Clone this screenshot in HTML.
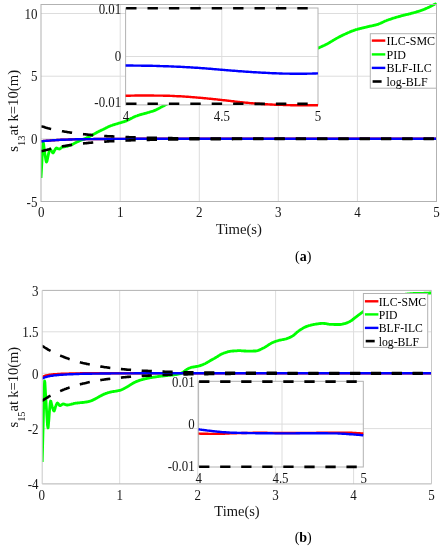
<!DOCTYPE html>
<html><head><meta charset="utf-8"><title>Figure</title>
<style>
html,body{margin:0;padding:0;background:#fff;}
body{width:445px;height:550px;overflow:hidden;}
svg{display:block;font-family:'Liberation Serif', 'Times New Roman', serif;}
</style></head>
<body>
<svg width="445" height="550" viewBox="0 0 445 550">
<defs>
<clipPath id="clipA"><rect x="41.0" y="2.5" width="396.5" height="199.0"/></clipPath>
<clipPath id="clipB"><rect x="42.2" y="288.4" width="390.3" height="195.5"/></clipPath>
</defs>
<rect width="445" height="550" fill="#fff"/>
<rect x="41.0" y="4.5" width="395.5" height="197.0" fill="#fff" stroke="none"/>
<line x1="120.2" y1="4.5" x2="120.2" y2="201.5" stroke="#dddddd" stroke-width="1"/>
<line x1="199.3" y1="4.5" x2="199.3" y2="201.5" stroke="#dddddd" stroke-width="1"/>
<line x1="278.3" y1="4.5" x2="278.3" y2="201.5" stroke="#dddddd" stroke-width="1"/>
<line x1="357.4" y1="4.5" x2="357.4" y2="201.5" stroke="#dddddd" stroke-width="1"/>
<line x1="41.0" y1="13.5" x2="436.5" y2="13.5" stroke="#dddddd" stroke-width="1"/>
<line x1="41.0" y1="76.2" x2="436.5" y2="76.2" stroke="#dddddd" stroke-width="1"/>
<line x1="41.0" y1="138.8" x2="436.5" y2="138.8" stroke="#dddddd" stroke-width="1"/>
<g clip-path="url(#clipA)" fill="none" stroke-linejoin="round">
<path d="M41.2,141.3 L42.5,141.2 L43.8,141.0 L45.2,140.9 L46.5,140.8 L47.8,140.7 L49.1,140.6 L50.5,140.5 L51.8,140.4 L53.1,140.3 L54.4,140.2 L55.7,140.1 L57.1,140.0 L58.4,140.0 L59.7,139.9 L61.0,139.8 L62.3,139.8 L63.7,139.7 L65.0,139.7 L66.3,139.6 L67.6,139.6 L69.0,139.5 L70.3,139.5 L71.6,139.5 L72.9,139.4 L74.2,139.4 L75.6,139.3 L76.9,139.3 L78.2,139.3 L79.5,139.3 L80.9,139.2 L82.2,139.2 L83.5,139.2 L84.8,139.2 L86.1,139.1 L87.5,139.1 L88.8,139.1 L90.1,139.1 L91.4,139.1 L92.7,139.1 L94.1,139.0 L95.4,139.0 L96.7,139.0 L98.0,139.0 L99.4,139.0 L100.7,139.0 L102.0,139.0 L103.3,139.0 L104.6,139.0 L106.0,138.9 L107.3,138.9 L108.6,138.9 L109.9,138.9 L111.3,138.9 L112.6,138.9 L113.9,138.9 L115.2,138.9 L116.5,138.9 L117.9,138.9 L119.2,138.9 L120.5,138.9 L121.8,138.9 L123.1,138.9 L124.5,138.9 L125.8,138.9 L127.1,138.9 L128.4,138.9 L129.8,138.8 L131.1,138.8 L132.4,138.8 L133.7,138.8 L135.0,138.8 L136.4,138.8 L137.7,138.8 L139.0,138.8 L140.3,138.8 L141.7,138.8 L143.0,138.8 L144.3,138.8 L145.6,138.8 L146.9,138.8 L148.3,138.8 L149.6,138.8 L150.9,138.8 L152.2,138.8 L153.5,138.8 L154.9,138.8 L156.2,138.8 L157.5,138.8 L158.8,138.8 L160.2,138.8 L161.5,138.8 L162.8,138.8 L164.1,138.8 L165.4,138.8 L166.8,138.8 L168.1,138.8 L169.4,138.8 L170.7,138.8 L172.1,138.8 L173.4,138.8 L174.7,138.8 L176.0,138.8 L177.3,138.8 L178.7,138.8 L180.0,138.8 L181.3,138.8 L182.6,138.8 L183.9,138.8 L185.3,138.8 L186.6,138.8 L187.9,138.8 L189.2,138.8 L190.6,138.8 L191.9,138.8 L193.2,138.8 L194.5,138.8 L195.8,138.8 L197.2,138.8 L198.5,138.8 L199.8,138.8 L201.1,138.8 L202.5,138.8 L203.8,138.8 L205.1,138.8 L206.4,138.8 L207.7,138.8 L209.1,138.8 L210.4,138.8 L211.7,138.8 L213.0,138.8 L214.3,138.8 L215.7,138.8 L217.0,138.8 L218.3,138.8 L219.6,138.8 L221.0,138.8 L222.3,138.8 L223.6,138.8 L224.9,138.8 L226.2,138.8 L227.6,138.8 L228.9,138.8 L230.2,138.8 L231.5,138.8 L232.9,138.8 L234.2,138.8 L235.5,138.8 L236.8,138.8 L238.1,138.8 L239.5,138.8 L240.8,138.8 L242.1,138.8 L243.4,138.8 L244.7,138.8 L246.1,138.8 L247.4,138.8 L248.7,138.8 L250.0,138.8 L251.4,138.8 L252.7,138.8 L254.0,138.8 L255.3,138.8 L256.6,138.8 L258.0,138.8 L259.3,138.8 L260.6,138.8 L261.9,138.8 L263.3,138.8 L264.6,138.8 L265.9,138.8 L267.2,138.8 L268.5,138.8 L269.9,138.8 L271.2,138.8 L272.5,138.8 L273.8,138.8 L275.1,138.8 L276.5,138.8 L277.8,138.8 L279.1,138.8 L280.4,138.8 L281.8,138.8 L283.1,138.8 L284.4,138.8 L285.7,138.8 L287.0,138.8 L288.4,138.8 L289.7,138.8 L291.0,138.8 L292.3,138.8 L293.7,138.8 L295.0,138.8 L296.3,138.8 L297.6,138.8 L298.9,138.8 L300.3,138.8 L301.6,138.8 L302.9,138.8 L304.2,138.8 L305.5,138.8 L306.9,138.8 L308.2,138.8 L309.5,138.8 L310.8,138.8 L312.2,138.8 L313.5,138.8 L314.8,138.8 L316.1,138.8 L317.4,138.8 L318.8,138.8 L320.1,138.8 L321.4,138.8 L322.7,138.8 L324.1,138.8 L325.4,138.8 L326.7,138.8 L328.0,138.8 L329.3,138.8 L330.7,138.8 L332.0,138.8 L333.3,138.8 L334.6,138.8 L335.9,138.8 L337.3,138.8 L338.6,138.8 L339.9,138.8 L341.2,138.8 L342.6,138.8 L343.9,138.8 L345.2,138.8 L346.5,138.8 L347.8,138.8 L349.2,138.8 L350.5,138.8 L351.8,138.8 L353.1,138.8 L354.5,138.8 L355.8,138.8 L357.1,138.8 L358.4,138.8 L359.7,138.8 L361.1,138.8 L362.4,138.8 L363.7,138.8 L365.0,138.8 L366.3,138.8 L367.7,138.8 L369.0,138.8 L370.3,138.8 L371.6,138.8 L373.0,138.8 L374.3,138.8 L375.6,138.8 L376.9,138.8 L378.2,138.8 L379.6,138.8 L380.9,138.8 L382.2,138.8 L383.5,138.8 L384.9,138.8 L386.2,138.8 L387.5,138.8 L388.8,138.8 L390.1,138.8 L391.5,138.8 L392.8,138.8 L394.1,138.8 L395.4,138.8 L396.7,138.8 L398.1,138.8 L399.4,138.8 L400.7,138.8 L402.0,138.8 L403.4,138.8 L404.7,138.8 L406.0,138.8 L407.3,138.8 L408.6,138.8 L410.0,138.8 L411.3,138.8 L412.6,138.8 L413.9,138.8 L415.3,138.8 L416.6,138.8 L417.9,138.8 L419.2,138.8 L420.5,138.8 L421.9,138.8 L423.2,138.8 L424.5,138.8 L425.8,138.8 L427.1,138.8 L428.5,138.8 L429.8,138.8 L431.1,138.8 L432.4,138.8 L433.8,138.8 L435.1,138.8 L436.4,138.8" stroke="#ff0000" stroke-width="2.4"/>
<path d="M41.0,178.0 L41.7,165.6 L42.0,160.0 L42.3,153.9 L43.0,143.4 L43.2,142.5 L43.7,144.3 L44.3,150.0 L44.6,152.0 L45.0,154.6 L45.7,159.1 L46.3,161.9 L46.5,162.0 L47.0,161.1 L47.7,158.0 L48.3,155.0 L48.3,154.9 L49.0,151.9 L49.7,149.4 L50.0,149.0 L50.3,149.2 L51.0,150.2 L51.5,151.0 L51.7,151.2 L52.3,152.4 L53.0,153.0 L53.0,153.0 L53.7,152.3 L54.3,150.9 L54.8,150.0 L55.0,149.7 L55.6,148.7 L56.3,148.0 L56.5,148.0 L57.0,148.1 L57.6,148.5 L58.0,148.7 L58.3,148.8 L59.0,148.9 L59.5,149.0 L59.6,149.0 L60.3,148.6 L61.0,148.0 L61.6,147.4 L62.0,147.2 L62.3,147.1 L63.0,147.0 L63.6,146.9 L64.3,146.8 L65.0,146.7 L65.6,146.6 L66.0,146.5 L66.3,146.4 L67.0,146.3 L67.6,146.1 L68.3,145.9 L69.0,145.7 L69.6,145.5 L70.3,145.3 L71.0,145.0 L71.0,145.0 L71.6,144.7 L72.3,144.4 L73.0,144.1 L73.6,143.8 L74.3,143.4 L75.0,143.0 L75.6,142.7 L76.0,142.5 L76.3,142.4 L77.0,142.0 L77.6,141.7 L78.3,141.4 L79.0,141.1 L79.6,140.8 L80.0,140.6 L80.3,140.5 L80.9,140.2 L81.6,139.9 L82.3,139.6 L82.9,139.4 L83.6,139.1 L84.3,138.8 L84.9,138.6 L85.6,138.3 L86.3,138.0 L86.9,137.7 L87.6,137.5 L88.3,137.2 L88.6,137.0 L88.9,136.8 L89.6,136.5 L90.3,136.2 L90.9,135.8 L91.6,135.4 L92.3,135.1 L92.9,134.7 L93.6,134.3 L94.3,133.9 L94.9,133.6 L95.6,133.2 L96.3,132.8 L96.9,132.4 L97.6,132.1 L98.3,131.7 L98.7,131.5 L98.9,131.4 L99.6,131.1 L100.3,130.7 L100.9,130.4 L101.6,130.1 L102.3,129.8 L102.9,129.5 L103.6,129.2 L104.0,129.0 L104.3,128.9 L104.9,128.5 L105.6,128.2 L106.3,127.8 L106.9,127.5 L107.6,127.2 L108.2,126.8 L108.9,126.5 L109.0,126.5 L109.6,126.3 L110.2,126.0 L110.9,125.7 L111.6,125.5 L112.2,125.3 L112.9,125.0 L113.0,125.0 L113.6,124.8 L114.2,124.6 L114.9,124.4 L115.6,124.2 L116.2,124.0 L116.9,123.8 L117.6,123.6 L118.0,123.5 L118.2,123.4 L118.9,123.2 L119.6,123.0 L120.2,122.8 L120.9,122.6 L121.6,122.4 L122.2,122.2 L122.9,122.0 L123.0,122.0 L123.6,121.8 L124.2,121.6 L124.9,121.4 L125.6,121.2 L126.2,120.9 L126.9,120.6 L127.0,120.6 L127.6,120.3 L128.2,120.0 L128.9,119.7 L129.6,119.3 L130.2,118.9 L130.9,118.6 L131.0,118.5 L131.6,118.2 L132.2,117.9 L132.9,117.5 L133.5,117.2 L134.2,116.9 L134.9,116.6 L135.5,116.3 L136.0,116.1 L136.2,116.0 L136.9,115.8 L137.5,115.6 L138.2,115.3 L138.9,115.1 L139.5,114.9 L140.0,114.8 L140.2,114.7 L140.9,114.5 L141.5,114.4 L142.2,114.2 L142.9,114.0 L143.5,113.8 L144.2,113.6 L144.9,113.4 L145.0,113.4 L145.5,113.3 L146.2,113.1 L146.9,112.9 L147.5,112.7 L148.2,112.5 L148.9,112.3 L149.5,112.1 L150.0,112.0 L150.2,111.9 L150.9,111.7 L151.5,111.5 L152.2,111.3 L152.9,111.1 L153.5,110.9 L154.0,110.7 L154.2,110.6 L154.9,110.4 L155.5,110.1 L156.2,109.8 L156.9,109.4 L157.5,109.1 L158.2,108.8 L158.9,108.4 L159.5,108.1 L160.2,107.7 L160.8,107.3 L161.5,107.0 L162.2,106.6 L162.8,106.3 L163.0,106.2 L163.5,105.9 L164.2,105.6 L164.8,105.2 L165.5,104.9 L166.2,104.5 L166.8,104.1 L167.5,103.8 L168.2,103.4 L168.8,103.1 L169.5,102.7 L170.0,102.5 L170.2,102.4 L170.8,102.1 L171.5,101.8 L172.2,101.5 L172.8,101.2 L173.5,100.8 L174.2,100.5 L174.8,100.2 L175.5,100.0 L176.2,99.7 L176.8,99.4 L177.5,99.1 L178.2,98.8 L178.8,98.5 L179.5,98.2 L180.0,98.0 L180.2,97.9 L180.8,97.6 L181.5,97.4 L182.2,97.1 L182.8,96.8 L183.5,96.5 L184.2,96.3 L184.8,96.0 L185.5,95.7 L186.1,95.4 L186.8,95.2 L187.5,94.9 L188.1,94.6 L188.8,94.3 L189.5,94.1 L190.1,93.8 L190.8,93.5 L191.5,93.3 L192.1,93.0 L192.8,92.8 L193.5,92.5 L194.1,92.2 L194.8,92.0 L195.5,91.7 L196.1,91.5 L196.8,91.2 L197.5,91.0 L198.1,90.7 L198.8,90.4 L199.5,90.2 L200.0,90.0 L200.1,90.0 L200.8,89.7 L201.5,89.5 L202.1,89.2 L202.8,89.0 L203.5,88.7 L204.1,88.5 L204.8,88.3 L205.5,88.0 L206.1,87.8 L206.8,87.6 L207.5,87.3 L208.1,87.1 L208.8,86.9 L209.5,86.6 L210.1,86.4 L210.8,86.2 L211.5,85.9 L212.1,85.7 L212.8,85.5 L213.4,85.3 L214.1,85.0 L214.8,84.8 L215.4,84.6 L216.1,84.3 L216.8,84.1 L217.4,83.9 L218.1,83.7 L218.8,83.4 L219.4,83.2 L220.0,83.0 L220.1,83.0 L220.8,82.7 L221.4,82.5 L222.1,82.3 L222.8,82.0 L223.4,81.8 L224.1,81.6 L224.8,81.3 L225.4,81.1 L226.1,80.9 L226.8,80.6 L227.4,80.4 L228.1,80.2 L228.8,79.9 L229.4,79.7 L230.1,79.5 L230.8,79.2 L231.4,79.0 L232.1,78.8 L232.8,78.5 L233.4,78.3 L234.1,78.1 L234.8,77.8 L235.4,77.6 L236.1,77.4 L236.8,77.1 L237.4,76.9 L238.1,76.7 L238.8,76.4 L239.4,76.2 L240.0,76.0 L240.1,76.0 L240.7,75.7 L241.4,75.5 L242.1,75.3 L242.7,75.0 L243.4,74.8 L244.1,74.6 L244.7,74.3 L245.4,74.1 L246.1,73.9 L246.7,73.6 L247.4,73.4 L248.1,73.2 L248.7,72.9 L249.4,72.7 L250.1,72.5 L250.7,72.2 L251.4,72.0 L252.1,71.8 L252.7,71.5 L253.4,71.3 L254.1,71.1 L254.7,70.8 L255.4,70.6 L256.1,70.4 L256.7,70.1 L257.4,69.9 L258.1,69.7 L258.7,69.4 L259.4,69.2 L260.0,69.0 L260.1,69.0 L260.7,68.7 L261.4,68.5 L262.1,68.3 L262.7,68.0 L263.4,67.8 L264.1,67.6 L264.7,67.3 L265.4,67.1 L266.0,66.9 L266.7,66.6 L267.4,66.4 L268.0,66.2 L268.7,66.0 L269.4,65.7 L270.0,65.5 L270.7,65.3 L271.4,65.0 L272.0,64.8 L272.7,64.6 L273.4,64.3 L274.0,64.1 L274.7,63.9 L275.4,63.6 L276.0,63.4 L276.7,63.2 L277.4,62.9 L278.0,62.7 L278.7,62.5 L279.4,62.2 L280.0,62.0 L280.0,62.0 L280.7,61.8 L281.4,61.5 L282.0,61.3 L282.7,61.1 L283.4,60.8 L284.0,60.6 L284.7,60.4 L285.4,60.1 L286.0,59.9 L286.7,59.7 L287.4,59.4 L288.0,59.2 L288.7,59.0 L289.4,58.8 L290.0,58.5 L290.7,58.3 L291.4,58.1 L292.0,57.8 L292.7,57.6 L293.3,57.4 L294.0,57.1 L294.7,56.9 L295.3,56.7 L296.0,56.4 L296.7,56.2 L297.3,56.0 L298.0,55.7 L298.7,55.5 L299.3,55.2 L300.0,55.0 L300.0,55.0 L300.7,54.8 L301.3,54.5 L302.0,54.3 L302.7,54.0 L303.3,53.8 L304.0,53.5 L304.7,53.3 L305.3,53.1 L306.0,52.8 L306.7,52.6 L307.3,52.3 L308.0,52.1 L308.7,51.8 L309.3,51.6 L310.0,51.4 L310.7,51.1 L311.3,50.8 L312.0,50.6 L312.7,50.3 L313.3,50.1 L314.0,49.8 L314.7,49.6 L315.3,49.3 L316.0,49.0 L316.7,48.7 L317.3,48.5 L318.0,48.2 L318.2,48.1 L318.6,47.9 L319.3,47.6 L320.0,47.3 L320.6,47.0 L321.3,46.7 L322.0,46.4 L322.6,46.1 L323.3,45.8 L324.0,45.5 L324.6,45.2 L325.3,44.9 L326.0,44.5 L326.6,44.2 L327.0,44.0 L327.3,43.8 L328.0,43.5 L328.6,43.1 L329.3,42.7 L330.0,42.3 L330.6,41.9 L331.3,41.5 L332.0,41.1 L332.6,40.7 L333.3,40.3 L334.0,39.9 L334.6,39.5 L335.3,39.1 L336.0,38.7 L336.5,38.4 L336.6,38.3 L337.3,38.0 L338.0,37.6 L338.6,37.3 L339.3,36.9 L340.0,36.6 L340.6,36.2 L341.3,35.9 L342.0,35.6 L342.6,35.2 L343.3,34.9 L344.0,34.6 L344.6,34.3 L345.3,34.0 L345.9,33.7 L345.9,33.7 L346.6,33.4 L347.3,33.1 L347.9,32.8 L348.6,32.5 L349.3,32.2 L349.9,31.9 L350.6,31.6 L351.3,31.4 L351.9,31.1 L352.6,30.8 L353.3,30.6 L353.9,30.4 L354.6,30.1 L355.3,29.9 L355.3,29.9 L355.9,29.7 L356.6,29.5 L357.3,29.3 L357.9,29.1 L358.6,28.9 L359.3,28.8 L359.9,28.6 L360.6,28.4 L361.3,28.3 L361.9,28.1 L362.6,27.9 L363.3,27.8 L363.9,27.6 L364.6,27.5 L365.3,27.3 L365.9,27.2 L366.6,27.0 L367.3,26.9 L367.9,26.7 L367.9,26.7 L368.6,26.5 L369.3,26.4 L369.9,26.2 L370.6,26.1 L371.2,26.0 L371.9,25.8 L372.6,25.7 L373.2,25.5 L373.9,25.4 L374.6,25.2 L375.2,25.1 L375.9,24.9 L376.6,24.7 L377.2,24.5 L377.3,24.5 L377.9,24.3 L378.6,24.1 L379.2,23.8 L379.9,23.5 L380.6,23.2 L381.2,22.9 L381.9,22.6 L382.6,22.3 L383.2,22.0 L383.9,21.6 L384.6,21.3 L385.2,21.0 L385.9,20.8 L386.6,20.5 L386.8,20.4 L387.2,20.2 L387.9,20.0 L388.6,19.8 L389.2,19.5 L389.9,19.3 L390.6,19.1 L391.2,18.9 L391.9,18.6 L392.6,18.4 L393.2,18.2 L393.9,18.0 L394.6,17.8 L395.2,17.6 L395.9,17.4 L396.6,17.2 L397.2,17.0 L397.9,16.8 L398.5,16.6 L399.2,16.5 L399.4,16.4 L399.9,16.3 L400.5,16.1 L401.2,15.9 L401.9,15.7 L402.5,15.6 L403.2,15.4 L403.9,15.2 L404.5,15.1 L405.2,14.9 L405.9,14.7 L406.5,14.6 L407.2,14.4 L407.9,14.3 L408.5,14.1 L409.2,13.9 L409.9,13.8 L410.5,13.6 L411.2,13.4 L411.9,13.2 L412.0,13.2 L412.5,13.1 L413.2,12.9 L413.9,12.7 L414.5,12.5 L415.2,12.3 L415.9,12.1 L416.5,11.9 L417.2,11.7 L417.9,11.6 L418.5,11.3 L419.2,11.1 L419.9,10.9 L420.5,10.7 L421.2,10.5 L421.4,10.4 L421.9,10.2 L422.5,10.0 L423.2,9.7 L423.8,9.5 L424.5,9.2 L425.2,8.9 L425.8,8.6 L426.5,8.3 L427.2,8.0 L427.8,7.7 L428.5,7.4 L429.2,7.1 L429.8,6.8 L430.5,6.4 L430.8,6.3 L431.2,6.1 L431.8,5.8 L432.5,5.4 L433.2,5.0 L433.8,4.7 L434.5,4.3 L435.2,3.9 L435.8,3.5 L436.5,3.1" stroke="#00ff00" stroke-width="2.8"/>
<path d="M41.2,141.3 L42.5,141.2 L43.8,141.0 L45.2,140.9 L46.5,140.8 L47.8,140.7 L49.1,140.6 L50.5,140.5 L51.8,140.4 L53.1,140.3 L54.4,140.2 L55.7,140.1 L57.1,140.0 L58.4,140.0 L59.7,139.9 L61.0,139.8 L62.3,139.8 L63.7,139.7 L65.0,139.7 L66.3,139.6 L67.6,139.6 L69.0,139.5 L70.3,139.5 L71.6,139.5 L72.9,139.4 L74.2,139.4 L75.6,139.3 L76.9,139.3 L78.2,139.3 L79.5,139.3 L80.9,139.2 L82.2,139.2 L83.5,139.2 L84.8,139.2 L86.1,139.1 L87.5,139.1 L88.8,139.1 L90.1,139.1 L91.4,139.1 L92.7,139.1 L94.1,139.0 L95.4,139.0 L96.7,139.0 L98.0,139.0 L99.4,139.0 L100.7,139.0 L102.0,139.0 L103.3,139.0 L104.6,139.0 L106.0,138.9 L107.3,138.9 L108.6,138.9 L109.9,138.9 L111.3,138.9 L112.6,138.9 L113.9,138.9 L115.2,138.9 L116.5,138.9 L117.9,138.9 L119.2,138.9 L120.5,138.9 L121.8,138.9 L123.1,138.9 L124.5,138.9 L125.8,138.9 L127.1,138.9 L128.4,138.9 L129.8,138.8 L131.1,138.8 L132.4,138.8 L133.7,138.8 L135.0,138.8 L136.4,138.8 L137.7,138.8 L139.0,138.8 L140.3,138.8 L141.7,138.8 L143.0,138.8 L144.3,138.8 L145.6,138.8 L146.9,138.8 L148.3,138.8 L149.6,138.8 L150.9,138.8 L152.2,138.8 L153.5,138.8 L154.9,138.8 L156.2,138.8 L157.5,138.8 L158.8,138.8 L160.2,138.8 L161.5,138.8 L162.8,138.8 L164.1,138.8 L165.4,138.8 L166.8,138.8 L168.1,138.8 L169.4,138.8 L170.7,138.8 L172.1,138.8 L173.4,138.8 L174.7,138.8 L176.0,138.8 L177.3,138.8 L178.7,138.8 L180.0,138.8 L181.3,138.8 L182.6,138.8 L183.9,138.8 L185.3,138.8 L186.6,138.8 L187.9,138.8 L189.2,138.8 L190.6,138.8 L191.9,138.8 L193.2,138.8 L194.5,138.8 L195.8,138.8 L197.2,138.8 L198.5,138.8 L199.8,138.8 L201.1,138.8 L202.5,138.8 L203.8,138.8 L205.1,138.8 L206.4,138.8 L207.7,138.8 L209.1,138.8 L210.4,138.8 L211.7,138.8 L213.0,138.8 L214.3,138.8 L215.7,138.8 L217.0,138.8 L218.3,138.8 L219.6,138.8 L221.0,138.8 L222.3,138.8 L223.6,138.8 L224.9,138.8 L226.2,138.8 L227.6,138.8 L228.9,138.8 L230.2,138.8 L231.5,138.8 L232.9,138.8 L234.2,138.8 L235.5,138.8 L236.8,138.8 L238.1,138.8 L239.5,138.8 L240.8,138.8 L242.1,138.8 L243.4,138.8 L244.7,138.8 L246.1,138.8 L247.4,138.8 L248.7,138.8 L250.0,138.8 L251.4,138.8 L252.7,138.8 L254.0,138.8 L255.3,138.8 L256.6,138.8 L258.0,138.8 L259.3,138.8 L260.6,138.8 L261.9,138.8 L263.3,138.8 L264.6,138.8 L265.9,138.8 L267.2,138.8 L268.5,138.8 L269.9,138.8 L271.2,138.8 L272.5,138.8 L273.8,138.8 L275.1,138.8 L276.5,138.8 L277.8,138.8 L279.1,138.8 L280.4,138.8 L281.8,138.8 L283.1,138.8 L284.4,138.8 L285.7,138.8 L287.0,138.8 L288.4,138.8 L289.7,138.8 L291.0,138.8 L292.3,138.8 L293.7,138.8 L295.0,138.8 L296.3,138.8 L297.6,138.8 L298.9,138.8 L300.3,138.8 L301.6,138.8 L302.9,138.8 L304.2,138.8 L305.5,138.8 L306.9,138.8 L308.2,138.8 L309.5,138.8 L310.8,138.8 L312.2,138.8 L313.5,138.8 L314.8,138.8 L316.1,138.8 L317.4,138.8 L318.8,138.8 L320.1,138.8 L321.4,138.8 L322.7,138.8 L324.1,138.8 L325.4,138.8 L326.7,138.8 L328.0,138.8 L329.3,138.8 L330.7,138.8 L332.0,138.8 L333.3,138.8 L334.6,138.8 L335.9,138.8 L337.3,138.8 L338.6,138.8 L339.9,138.8 L341.2,138.8 L342.6,138.8 L343.9,138.8 L345.2,138.8 L346.5,138.8 L347.8,138.8 L349.2,138.8 L350.5,138.8 L351.8,138.8 L353.1,138.8 L354.5,138.8 L355.8,138.8 L357.1,138.8 L358.4,138.8 L359.7,138.8 L361.1,138.8 L362.4,138.8 L363.7,138.8 L365.0,138.8 L366.3,138.8 L367.7,138.8 L369.0,138.8 L370.3,138.8 L371.6,138.8 L373.0,138.8 L374.3,138.8 L375.6,138.8 L376.9,138.8 L378.2,138.8 L379.6,138.8 L380.9,138.8 L382.2,138.8 L383.5,138.8 L384.9,138.8 L386.2,138.8 L387.5,138.8 L388.8,138.8 L390.1,138.8 L391.5,138.8 L392.8,138.8 L394.1,138.8 L395.4,138.8 L396.7,138.8 L398.1,138.8 L399.4,138.8 L400.7,138.8 L402.0,138.8 L403.4,138.8 L404.7,138.8 L406.0,138.8 L407.3,138.8 L408.6,138.8 L410.0,138.8 L411.3,138.8 L412.6,138.8 L413.9,138.8 L415.3,138.8 L416.6,138.8 L417.9,138.8 L419.2,138.8 L420.5,138.8 L421.9,138.8 L423.2,138.8 L424.5,138.8 L425.8,138.8 L427.1,138.8 L428.5,138.8 L429.8,138.8 L431.1,138.8 L432.4,138.8 L433.8,138.8 L435.1,138.8 L436.4,138.8" stroke="#0000ff" stroke-width="2.4"/>
<path d="M41.2,126.3 L42.2,126.6 L43.2,126.8 L44.2,127.1 L45.2,127.4 L46.2,127.7 L47.1,127.9 L48.1,128.2 L49.1,128.4 L50.1,128.7 L51.1,128.9 L52.1,129.1 L53.1,129.4 L54.1,129.6 L55.1,129.8 L56.1,130.0 L57.0,130.2 L58.0,130.4 L59.0,130.6 L60.0,130.8 L61.0,131.0 L62.0,131.2 L63.0,131.3 L64.0,131.5 L65.0,131.7 L66.0,131.8 L67.0,132.0 L67.9,132.2 L68.9,132.3 L69.9,132.5 L70.9,132.6 L71.9,132.7 L72.9,132.9 L73.9,133.0 L74.9,133.2 L75.9,133.3 L76.9,133.4 L77.8,133.5 L78.8,133.7 L79.8,133.8 L80.8,133.9 L81.8,134.0 L82.8,134.1 L83.8,134.2 L84.8,134.3 L85.8,134.4 L86.8,134.5 L87.8,134.6 L88.7,134.7 L89.7,134.8 L90.7,134.9 L91.7,135.0 L92.7,135.1 L93.7,135.2 L94.7,135.2 L95.7,135.3 L96.7,135.4 L97.7,135.5 L98.6,135.6 L99.6,135.6 L100.6,135.7 L101.6,135.8 L102.6,135.8 L103.6,135.9 L104.6,136.0 L105.6,136.0 L106.6,136.1 L107.6,136.2 L108.6,136.2 L109.5,136.3 L110.5,136.3 L111.5,136.4 L112.5,136.4 L113.5,136.5 L114.5,136.5 L115.5,136.6 L116.5,136.6 L117.5,136.7 L118.5,136.7 L119.4,136.8 L120.4,136.8 L121.4,136.9 L122.4,136.9 L123.4,137.0 L124.4,137.0 L125.4,137.0 L126.4,137.1 L127.4,137.1 L128.4,137.1 L129.4,137.2 L130.3,137.2 L131.3,137.3 L132.3,137.3 L133.3,137.3 L134.3,137.4 L135.3,137.4 L136.3,137.4 L137.3,137.4 L138.3,137.5 L139.3,137.5 L140.2,137.5 L141.2,137.6 L142.2,137.6 L143.2,137.6 L144.2,137.6 L145.2,137.7 L146.2,137.7 L147.2,137.7 L148.2,137.7 L149.2,137.7 L150.2,137.8 L151.1,137.8 L152.1,137.8 L153.1,137.8 L154.1,137.9 L155.1,137.9 L156.1,137.9 L157.1,137.9 L158.1,137.9 L159.1,137.9 L160.1,138.0 L161.0,138.0 L162.0,138.0 L163.0,138.0 L164.0,138.0 L165.0,138.0 L166.0,138.1 L167.0,138.1 L168.0,138.1 L169.0,138.1 L170.0,138.1 L171.0,138.1 L171.9,138.1 L172.9,138.2 L173.9,138.2 L174.9,138.2 L175.9,138.2 L176.9,138.2 L177.9,138.2 L178.9,138.2 L179.9,138.2 L180.9,138.2 L181.8,138.3 L182.8,138.3 L183.8,138.3 L184.8,138.3 L185.8,138.3 L186.8,138.3 L187.8,138.3 L188.8,138.3 L189.8,138.3 L190.8,138.3 L191.8,138.3 L192.7,138.3 L193.7,138.4 L194.7,138.4 L195.7,138.4 L196.7,138.4 L197.7,138.4 L198.7,138.4 L199.7,138.4 L200.7,138.4 L201.7,138.4 L202.6,138.4 L203.6,138.4 L204.6,138.4 L205.6,138.4 L206.6,138.4 L207.6,138.4 L208.6,138.5 L209.6,138.5 L210.6,138.5 L211.6,138.5 L212.6,138.5 L213.5,138.5 L214.5,138.5 L215.5,138.5 L216.5,138.5 L217.5,138.5 L218.5,138.5 L219.5,138.5 L220.5,138.5 L221.5,138.5 L222.5,138.5 L223.4,138.5 L224.4,138.5 L225.4,138.5 L226.4,138.5 L227.4,138.5 L228.4,138.5 L229.4,138.5 L230.4,138.5 L231.4,138.5 L232.4,138.5 L233.4,138.6 L234.3,138.6 L235.3,138.6 L236.3,138.6 L237.3,138.6 L238.3,138.6 L239.3,138.6 L240.3,138.6 L241.3,138.6 L242.3,138.6 L243.3,138.6 L244.2,138.6 L245.2,138.6 L246.2,138.6 L247.2,138.6 L248.2,138.6 L249.2,138.6 L250.2,138.6 L251.2,138.6 L252.2,138.6 L253.2,138.6 L254.2,138.6 L255.1,138.6 L256.1,138.6 L257.1,138.6 L258.1,138.6 L259.1,138.6 L260.1,138.6 L261.1,138.6 L262.1,138.6 L263.1,138.6 L264.1,138.6 L265.0,138.6 L266.0,138.6 L267.0,138.6 L268.0,138.6 L269.0,138.6 L270.0,138.6 L271.0,138.6 L272.0,138.6 L273.0,138.6 L274.0,138.6 L275.0,138.6 L275.9,138.6 L276.9,138.6 L277.9,138.6 L278.9,138.6 L279.9,138.6 L280.9,138.6 L281.9,138.6 L282.9,138.6 L283.9,138.6 L284.9,138.6 L285.8,138.6 L286.8,138.6 L287.8,138.6 L288.8,138.6 L289.8,138.6 L290.8,138.6 L291.8,138.6 L292.8,138.6 L293.8,138.6 L294.8,138.6 L295.8,138.6 L296.7,138.6 L297.7,138.6 L298.7,138.6 L299.7,138.6 L300.7,138.7 L301.7,138.7 L302.7,138.7 L303.7,138.7 L304.7,138.7 L305.7,138.7 L306.6,138.7 L307.6,138.7 L308.6,138.7 L309.6,138.7 L310.6,138.7 L311.6,138.7 L312.6,138.7 L313.6,138.7 L314.6,138.7 L315.6,138.7 L316.6,138.7 L317.5,138.7 L318.5,138.7 L319.5,138.7 L320.5,138.7 L321.5,138.7 L322.5,138.7 L323.5,138.7 L324.5,138.7 L325.5,138.7 L326.5,138.7 L327.4,138.7 L328.4,138.7 L329.4,138.7 L330.4,138.7 L331.4,138.7 L332.4,138.7 L333.4,138.7 L334.4,138.7 L335.4,138.7 L336.4,138.7 L337.4,138.7 L338.3,138.7 L339.3,138.7 L340.3,138.7 L341.3,138.7 L342.3,138.7 L343.3,138.7 L344.3,138.7 L345.3,138.7 L346.3,138.7 L347.3,138.7 L348.2,138.7 L349.2,138.7 L350.2,138.7 L351.2,138.7 L352.2,138.7 L353.2,138.7 L354.2,138.7 L355.2,138.7 L356.2,138.7 L357.2,138.7 L358.2,138.7 L359.1,138.7 L360.1,138.7 L361.1,138.7 L362.1,138.7 L363.1,138.7 L364.1,138.7 L365.1,138.7 L366.1,138.7 L367.1,138.7 L368.1,138.7 L369.0,138.7 L370.0,138.7 L371.0,138.7 L372.0,138.7 L373.0,138.7 L374.0,138.7 L375.0,138.7 L376.0,138.7 L377.0,138.7 L378.0,138.7 L379.0,138.7 L379.9,138.7 L380.9,138.7 L381.9,138.7 L382.9,138.7 L383.9,138.7 L384.9,138.7 L385.9,138.7 L386.9,138.7 L387.9,138.7 L388.9,138.7 L389.8,138.7 L390.8,138.7 L391.8,138.7 L392.8,138.7 L393.8,138.7 L394.8,138.7 L395.8,138.7 L396.8,138.7 L397.8,138.7 L398.8,138.7 L399.8,138.7 L400.7,138.7 L401.7,138.7 L402.7,138.7 L403.7,138.7 L404.7,138.7 L405.7,138.7 L406.7,138.7 L407.7,138.7 L408.7,138.7 L409.7,138.7 L410.6,138.7 L411.6,138.7 L412.6,138.7 L413.6,138.7 L414.6,138.7 L415.6,138.7 L416.6,138.7 L417.6,138.7 L418.6,138.7 L419.6,138.7 L420.6,138.7 L421.5,138.7 L422.5,138.7 L423.5,138.7 L424.5,138.7 L425.5,138.7 L426.5,138.7 L427.5,138.7 L428.5,138.7 L429.5,138.7 L430.5,138.7 L431.4,138.7 L432.4,138.7 L433.4,138.7 L434.4,138.7 L435.4,138.7 L436.4,138.7" stroke="#000" stroke-width="2.6" stroke-dasharray="10.3 11"/>
<path d="M41.2,151.3 L42.2,151.0 L43.2,150.8 L44.2,150.5 L45.2,150.2 L46.2,149.9 L47.1,149.7 L48.1,149.4 L49.1,149.2 L50.1,148.9 L51.1,148.7 L52.1,148.5 L53.1,148.2 L54.1,148.0 L55.1,147.8 L56.1,147.6 L57.0,147.4 L58.0,147.2 L59.0,147.0 L60.0,146.8 L61.0,146.6 L62.0,146.4 L63.0,146.3 L64.0,146.1 L65.0,145.9 L66.0,145.8 L67.0,145.6 L67.9,145.4 L68.9,145.3 L69.9,145.1 L70.9,145.0 L71.9,144.9 L72.9,144.7 L73.9,144.6 L74.9,144.4 L75.9,144.3 L76.9,144.2 L77.8,144.1 L78.8,143.9 L79.8,143.8 L80.8,143.7 L81.8,143.6 L82.8,143.5 L83.8,143.4 L84.8,143.3 L85.8,143.2 L86.8,143.1 L87.8,143.0 L88.7,142.9 L89.7,142.8 L90.7,142.7 L91.7,142.6 L92.7,142.5 L93.7,142.4 L94.7,142.4 L95.7,142.3 L96.7,142.2 L97.7,142.1 L98.6,142.0 L99.6,142.0 L100.6,141.9 L101.6,141.8 L102.6,141.8 L103.6,141.7 L104.6,141.6 L105.6,141.6 L106.6,141.5 L107.6,141.4 L108.6,141.4 L109.5,141.3 L110.5,141.3 L111.5,141.2 L112.5,141.2 L113.5,141.1 L114.5,141.1 L115.5,141.0 L116.5,141.0 L117.5,140.9 L118.5,140.9 L119.4,140.8 L120.4,140.8 L121.4,140.7 L122.4,140.7 L123.4,140.6 L124.4,140.6 L125.4,140.6 L126.4,140.5 L127.4,140.5 L128.4,140.5 L129.4,140.4 L130.3,140.4 L131.3,140.3 L132.3,140.3 L133.3,140.3 L134.3,140.2 L135.3,140.2 L136.3,140.2 L137.3,140.2 L138.3,140.1 L139.3,140.1 L140.2,140.1 L141.2,140.0 L142.2,140.0 L143.2,140.0 L144.2,140.0 L145.2,139.9 L146.2,139.9 L147.2,139.9 L148.2,139.9 L149.2,139.9 L150.2,139.8 L151.1,139.8 L152.1,139.8 L153.1,139.8 L154.1,139.7 L155.1,139.7 L156.1,139.7 L157.1,139.7 L158.1,139.7 L159.1,139.7 L160.1,139.6 L161.0,139.6 L162.0,139.6 L163.0,139.6 L164.0,139.6 L165.0,139.6 L166.0,139.5 L167.0,139.5 L168.0,139.5 L169.0,139.5 L170.0,139.5 L171.0,139.5 L171.9,139.5 L172.9,139.4 L173.9,139.4 L174.9,139.4 L175.9,139.4 L176.9,139.4 L177.9,139.4 L178.9,139.4 L179.9,139.4 L180.9,139.4 L181.8,139.3 L182.8,139.3 L183.8,139.3 L184.8,139.3 L185.8,139.3 L186.8,139.3 L187.8,139.3 L188.8,139.3 L189.8,139.3 L190.8,139.3 L191.8,139.3 L192.7,139.3 L193.7,139.2 L194.7,139.2 L195.7,139.2 L196.7,139.2 L197.7,139.2 L198.7,139.2 L199.7,139.2 L200.7,139.2 L201.7,139.2 L202.6,139.2 L203.6,139.2 L204.6,139.2 L205.6,139.2 L206.6,139.2 L207.6,139.2 L208.6,139.1 L209.6,139.1 L210.6,139.1 L211.6,139.1 L212.6,139.1 L213.5,139.1 L214.5,139.1 L215.5,139.1 L216.5,139.1 L217.5,139.1 L218.5,139.1 L219.5,139.1 L220.5,139.1 L221.5,139.1 L222.5,139.1 L223.4,139.1 L224.4,139.1 L225.4,139.1 L226.4,139.1 L227.4,139.1 L228.4,139.1 L229.4,139.1 L230.4,139.1 L231.4,139.1 L232.4,139.1 L233.4,139.0 L234.3,139.0 L235.3,139.0 L236.3,139.0 L237.3,139.0 L238.3,139.0 L239.3,139.0 L240.3,139.0 L241.3,139.0 L242.3,139.0 L243.3,139.0 L244.2,139.0 L245.2,139.0 L246.2,139.0 L247.2,139.0 L248.2,139.0 L249.2,139.0 L250.2,139.0 L251.2,139.0 L252.2,139.0 L253.2,139.0 L254.2,139.0 L255.1,139.0 L256.1,139.0 L257.1,139.0 L258.1,139.0 L259.1,139.0 L260.1,139.0 L261.1,139.0 L262.1,139.0 L263.1,139.0 L264.1,139.0 L265.0,139.0 L266.0,139.0 L267.0,139.0 L268.0,139.0 L269.0,139.0 L270.0,139.0 L271.0,139.0 L272.0,139.0 L273.0,139.0 L274.0,139.0 L275.0,139.0 L275.9,139.0 L276.9,139.0 L277.9,139.0 L278.9,139.0 L279.9,139.0 L280.9,139.0 L281.9,139.0 L282.9,139.0 L283.9,139.0 L284.9,139.0 L285.8,139.0 L286.8,139.0 L287.8,139.0 L288.8,139.0 L289.8,139.0 L290.8,139.0 L291.8,139.0 L292.8,139.0 L293.8,139.0 L294.8,139.0 L295.8,139.0 L296.7,139.0 L297.7,139.0 L298.7,139.0 L299.7,139.0 L300.7,138.9 L301.7,138.9 L302.7,138.9 L303.7,138.9 L304.7,138.9 L305.7,138.9 L306.6,138.9 L307.6,138.9 L308.6,138.9 L309.6,138.9 L310.6,138.9 L311.6,138.9 L312.6,138.9 L313.6,138.9 L314.6,138.9 L315.6,138.9 L316.6,138.9 L317.5,138.9 L318.5,138.9 L319.5,138.9 L320.5,138.9 L321.5,138.9 L322.5,138.9 L323.5,138.9 L324.5,138.9 L325.5,138.9 L326.5,138.9 L327.4,138.9 L328.4,138.9 L329.4,138.9 L330.4,138.9 L331.4,138.9 L332.4,138.9 L333.4,138.9 L334.4,138.9 L335.4,138.9 L336.4,138.9 L337.4,138.9 L338.3,138.9 L339.3,138.9 L340.3,138.9 L341.3,138.9 L342.3,138.9 L343.3,138.9 L344.3,138.9 L345.3,138.9 L346.3,138.9 L347.3,138.9 L348.2,138.9 L349.2,138.9 L350.2,138.9 L351.2,138.9 L352.2,138.9 L353.2,138.9 L354.2,138.9 L355.2,138.9 L356.2,138.9 L357.2,138.9 L358.2,138.9 L359.1,138.9 L360.1,138.9 L361.1,138.9 L362.1,138.9 L363.1,138.9 L364.1,138.9 L365.1,138.9 L366.1,138.9 L367.1,138.9 L368.1,138.9 L369.0,138.9 L370.0,138.9 L371.0,138.9 L372.0,138.9 L373.0,138.9 L374.0,138.9 L375.0,138.9 L376.0,138.9 L377.0,138.9 L378.0,138.9 L379.0,138.9 L379.9,138.9 L380.9,138.9 L381.9,138.9 L382.9,138.9 L383.9,138.9 L384.9,138.9 L385.9,138.9 L386.9,138.9 L387.9,138.9 L388.9,138.9 L389.8,138.9 L390.8,138.9 L391.8,138.9 L392.8,138.9 L393.8,138.9 L394.8,138.9 L395.8,138.9 L396.8,138.9 L397.8,138.9 L398.8,138.9 L399.8,138.9 L400.7,138.9 L401.7,138.9 L402.7,138.9 L403.7,138.9 L404.7,138.9 L405.7,138.9 L406.7,138.9 L407.7,138.9 L408.7,138.9 L409.7,138.9 L410.6,138.9 L411.6,138.9 L412.6,138.9 L413.6,138.9 L414.6,138.9 L415.6,138.9 L416.6,138.9 L417.6,138.9 L418.6,138.9 L419.6,138.9 L420.6,138.9 L421.5,138.9 L422.5,138.9 L423.5,138.9 L424.5,138.9 L425.5,138.9 L426.5,138.9 L427.5,138.9 L428.5,138.9 L429.5,138.9 L430.5,138.9 L431.4,138.9 L432.4,138.9 L433.4,138.9 L434.4,138.9 L435.4,138.9 L436.4,138.9" stroke="#000" stroke-width="2.6" stroke-dasharray="10.3 11"/>
</g>
<rect x="41.0" y="4.5" width="395.5" height="197.0" fill="none" stroke="#b2b2b2" stroke-width="1"/>
<text transform="translate(41.2,217.4) scale(1,1.07)" font-size="13" text-anchor="middle" fill="#151515">0</text>
<text transform="translate(120.2,217.4) scale(1,1.07)" font-size="13" text-anchor="middle" fill="#151515">1</text>
<text transform="translate(199.3,217.4) scale(1,1.07)" font-size="13" text-anchor="middle" fill="#151515">2</text>
<text transform="translate(278.3,217.4) scale(1,1.07)" font-size="13" text-anchor="middle" fill="#151515">3</text>
<text transform="translate(357.4,217.4) scale(1,1.07)" font-size="13" text-anchor="middle" fill="#151515">4</text>
<text transform="translate(436.4,217.4) scale(1,1.07)" font-size="13" text-anchor="middle" fill="#151515">5</text>
<text transform="translate(37.4,18.5) scale(1,1.07)" font-size="13" text-anchor="end" fill="#151515">10</text>
<text transform="translate(37.4,81.2) scale(1,1.07)" font-size="13" text-anchor="end" fill="#151515">5</text>
<text transform="translate(37.4,143.8) scale(1,1.07)" font-size="13" text-anchor="end" fill="#151515">0</text>
<text transform="translate(37.4,206.5) scale(1,1.07)" font-size="13" text-anchor="end" fill="#151515">-5</text>
<rect x="125.6" y="8.0" width="192.4" height="96.9" fill="#fff"/>
<line x1="221.8" y1="8.0" x2="221.8" y2="104.9" stroke="#dddddd"/>
<line x1="125.6" y1="56.5" x2="318.0" y2="56.5" stroke="#dddddd"/>
<rect x="125.6" y="8.0" width="192.4" height="96.9" fill="none" stroke="#b2b2b2"/>
<g fill="none">
<path d="M125.6,95.8 L126.3,95.8 L126.9,95.8 L127.6,95.7 L128.3,95.7 L128.9,95.7 L129.6,95.7 L130.3,95.7 L130.9,95.6 L131.6,95.6 L132.3,95.6 L132.9,95.6 L133.6,95.6 L134.3,95.6 L134.9,95.5 L135.6,95.5 L136.3,95.5 L136.9,95.5 L137.6,95.5 L138.2,95.5 L138.9,95.5 L139.6,95.5 L140.0,95.5 L140.2,95.5 L140.9,95.5 L141.6,95.5 L142.2,95.5 L142.9,95.5 L143.6,95.5 L144.2,95.5 L144.9,95.5 L145.6,95.5 L146.2,95.5 L146.9,95.5 L147.6,95.5 L148.2,95.5 L148.9,95.5 L149.6,95.5 L150.2,95.5 L150.9,95.5 L151.6,95.5 L152.2,95.5 L152.9,95.5 L153.6,95.5 L154.2,95.6 L154.9,95.6 L155.6,95.6 L156.2,95.6 L156.9,95.6 L157.6,95.6 L158.2,95.6 L158.9,95.6 L159.6,95.6 L160.0,95.6 L160.2,95.6 L160.9,95.6 L161.6,95.6 L162.2,95.6 L162.9,95.6 L163.5,95.7 L164.2,95.7 L164.9,95.7 L165.5,95.7 L166.2,95.7 L166.9,95.7 L167.5,95.8 L168.2,95.8 L168.9,95.8 L169.5,95.8 L170.2,95.9 L170.9,95.9 L171.5,95.9 L172.2,95.9 L172.9,96.0 L173.5,96.0 L174.2,96.0 L174.9,96.1 L175.5,96.1 L176.2,96.1 L176.9,96.2 L177.5,96.2 L178.2,96.2 L178.9,96.2 L179.5,96.3 L180.0,96.3 L180.2,96.3 L180.9,96.3 L181.5,96.4 L182.2,96.4 L182.9,96.5 L183.5,96.5 L184.2,96.5 L184.9,96.6 L185.5,96.6 L186.2,96.7 L186.8,96.7 L187.5,96.8 L188.2,96.8 L188.8,96.9 L189.5,96.9 L190.2,97.0 L190.8,97.0 L191.5,97.1 L192.2,97.1 L192.8,97.2 L193.5,97.2 L194.2,97.3 L194.8,97.4 L195.5,97.4 L196.2,97.5 L196.8,97.5 L197.5,97.6 L198.2,97.6 L198.8,97.7 L199.5,97.8 L200.0,97.8 L200.2,97.8 L200.8,97.9 L201.5,97.9 L202.2,98.0 L202.8,98.0 L203.5,98.1 L204.2,98.2 L204.8,98.2 L205.5,98.3 L206.2,98.4 L206.8,98.4 L207.5,98.5 L208.2,98.6 L208.8,98.6 L209.5,98.7 L210.1,98.8 L210.8,98.8 L211.5,98.9 L212.1,99.0 L212.8,99.0 L213.5,99.1 L214.1,99.2 L214.8,99.2 L215.5,99.3 L216.1,99.4 L216.8,99.4 L217.5,99.5 L218.1,99.6 L218.8,99.7 L219.5,99.7 L220.1,99.8 L220.8,99.9 L221.5,99.9 L222.0,100.0 L222.1,100.0 L222.8,100.1 L223.5,100.2 L224.1,100.2 L224.8,100.3 L225.5,100.4 L226.1,100.5 L226.8,100.5 L227.5,100.6 L228.1,100.7 L228.8,100.8 L229.5,100.9 L230.1,100.9 L230.8,101.0 L231.5,101.1 L232.1,101.2 L232.8,101.3 L233.5,101.3 L234.1,101.4 L234.8,101.5 L235.4,101.6 L236.1,101.6 L236.8,101.7 L237.4,101.8 L238.1,101.9 L238.8,102.0 L239.4,102.0 L240.1,102.1 L240.8,102.2 L241.4,102.2 L242.1,102.3 L242.8,102.4 L243.4,102.4 L244.1,102.5 L244.8,102.6 L245.0,102.6 L245.4,102.6 L246.1,102.7 L246.8,102.8 L247.4,102.8 L248.1,102.9 L248.8,102.9 L249.4,103.0 L250.1,103.1 L250.8,103.1 L251.4,103.2 L252.1,103.2 L252.8,103.3 L253.4,103.4 L254.1,103.4 L254.8,103.5 L255.4,103.5 L256.1,103.6 L256.8,103.6 L257.4,103.7 L258.1,103.7 L258.7,103.8 L259.4,103.8 L260.1,103.9 L260.7,103.9 L261.4,104.0 L262.1,104.0 L262.7,104.1 L263.4,104.1 L264.1,104.1 L264.7,104.2 L265.0,104.2 L265.4,104.2 L266.1,104.3 L266.7,104.3 L267.4,104.3 L268.1,104.4 L268.7,104.4 L269.4,104.4 L270.1,104.5 L270.7,104.5 L271.4,104.5 L272.1,104.5 L272.7,104.6 L273.4,104.6 L274.1,104.6 L274.7,104.7 L275.4,104.7 L276.1,104.7 L276.7,104.7 L277.4,104.8 L278.1,104.8 L278.7,104.8 L279.4,104.8 L280.1,104.9 L280.7,104.9 L281.4,104.9 L282.0,104.9 L282.7,104.9 L283.4,105.0 L284.0,105.0 L284.7,105.0 L285.0,105.0 L285.4,105.0 L286.0,105.0 L286.7,105.0 L287.4,105.1 L288.0,105.1 L288.7,105.1 L289.4,105.1 L290.0,105.1 L290.7,105.2 L291.4,105.2 L292.0,105.2 L292.7,105.2 L293.4,105.2 L294.0,105.2 L294.7,105.2 L295.4,105.3 L296.0,105.3 L296.7,105.3 L297.4,105.3 L298.0,105.3 L298.7,105.3 L299.4,105.3 L300.0,105.3 L300.0,105.3 L300.7,105.3 L301.4,105.3 L302.0,105.3 L302.7,105.3 L303.4,105.3 L304.0,105.3 L304.7,105.3 L305.4,105.3 L306.0,105.3 L306.7,105.3 L307.3,105.3 L308.0,105.3 L308.7,105.3 L309.3,105.3 L310.0,105.3 L310.7,105.3 L311.3,105.3 L312.0,105.3 L312.7,105.3 L313.3,105.3 L314.0,105.3 L314.7,105.2 L315.3,105.2 L316.0,105.2 L316.7,105.2 L317.3,105.2 L318.0,105.2" stroke="#ff0000" stroke-width="2.4"/>
<path d="M125.6,65.5 L126.3,65.5 L126.9,65.5 L127.6,65.5 L128.3,65.5 L128.9,65.5 L129.6,65.5 L130.3,65.5 L130.9,65.5 L131.6,65.5 L132.3,65.5 L132.9,65.5 L133.6,65.6 L134.3,65.6 L134.9,65.6 L135.6,65.6 L136.3,65.6 L136.9,65.6 L137.6,65.6 L138.2,65.6 L138.9,65.6 L139.6,65.6 L140.2,65.6 L140.9,65.6 L141.6,65.7 L142.2,65.7 L142.9,65.7 L143.6,65.7 L144.2,65.7 L144.9,65.7 L145.6,65.7 L146.2,65.7 L146.9,65.7 L147.6,65.8 L148.2,65.8 L148.9,65.8 L149.6,65.8 L150.0,65.8 L150.2,65.8 L150.9,65.8 L151.6,65.8 L152.2,65.8 L152.9,65.9 L153.6,65.9 L154.2,65.9 L154.9,65.9 L155.6,65.9 L156.2,65.9 L156.9,66.0 L157.6,66.0 L158.2,66.0 L158.9,66.0 L159.6,66.0 L160.2,66.1 L160.9,66.1 L161.6,66.1 L162.2,66.1 L162.9,66.1 L163.5,66.2 L164.2,66.2 L164.9,66.2 L165.5,66.2 L166.2,66.3 L166.9,66.3 L167.5,66.3 L168.2,66.3 L168.9,66.4 L169.5,66.4 L170.2,66.4 L170.9,66.4 L171.5,66.5 L172.2,66.5 L172.9,66.5 L173.5,66.5 L174.2,66.6 L174.9,66.6 L175.0,66.6 L175.5,66.6 L176.2,66.6 L176.9,66.7 L177.5,66.7 L178.2,66.7 L178.9,66.8 L179.5,66.8 L180.2,66.8 L180.9,66.9 L181.5,66.9 L182.2,66.9 L182.9,67.0 L183.5,67.0 L184.2,67.0 L184.9,67.1 L185.5,67.1 L186.2,67.1 L186.8,67.2 L187.5,67.2 L188.2,67.3 L188.8,67.3 L189.5,67.3 L190.2,67.4 L190.8,67.4 L191.5,67.5 L192.2,67.5 L192.8,67.5 L193.5,67.6 L194.2,67.6 L194.8,67.7 L195.5,67.7 L196.2,67.7 L196.8,67.8 L197.5,67.8 L198.2,67.9 L198.8,67.9 L199.5,68.0 L200.0,68.0 L200.2,68.0 L200.8,68.1 L201.5,68.1 L202.2,68.2 L202.8,68.2 L203.5,68.2 L204.2,68.3 L204.8,68.4 L205.5,68.4 L206.2,68.5 L206.8,68.5 L207.5,68.6 L208.2,68.6 L208.8,68.7 L209.5,68.7 L210.1,68.8 L210.8,68.8 L211.5,68.9 L212.1,69.0 L212.8,69.0 L213.5,69.1 L214.1,69.1 L214.8,69.2 L215.5,69.3 L216.1,69.3 L216.8,69.4 L217.5,69.4 L218.1,69.5 L218.8,69.5 L219.5,69.6 L220.1,69.6 L220.8,69.7 L221.5,69.8 L222.0,69.8 L222.1,69.8 L222.8,69.9 L223.5,69.9 L224.1,70.0 L224.8,70.0 L225.5,70.1 L226.1,70.1 L226.8,70.2 L227.5,70.2 L228.1,70.3 L228.8,70.4 L229.5,70.4 L230.1,70.5 L230.8,70.5 L231.5,70.6 L232.1,70.6 L232.8,70.7 L233.5,70.7 L234.1,70.8 L234.8,70.8 L235.4,70.9 L236.1,70.9 L236.8,71.0 L237.4,71.0 L238.1,71.1 L238.8,71.2 L239.4,71.2 L240.1,71.3 L240.8,71.3 L241.4,71.3 L242.1,71.4 L242.8,71.4 L243.4,71.5 L244.1,71.5 L244.8,71.6 L245.0,71.6 L245.4,71.6 L246.1,71.7 L246.8,71.7 L247.4,71.8 L248.1,71.8 L248.8,71.9 L249.4,71.9 L250.1,71.9 L250.8,72.0 L251.4,72.0 L252.1,72.1 L252.8,72.1 L253.4,72.2 L254.1,72.2 L254.8,72.2 L255.4,72.3 L256.1,72.3 L256.8,72.4 L257.4,72.4 L258.1,72.4 L258.7,72.5 L259.4,72.5 L260.1,72.5 L260.7,72.6 L261.4,72.6 L262.1,72.7 L262.7,72.7 L263.4,72.7 L264.1,72.8 L264.7,72.8 L265.0,72.8 L265.4,72.8 L266.1,72.9 L266.7,72.9 L267.4,72.9 L268.1,73.0 L268.7,73.0 L269.4,73.0 L270.1,73.1 L270.7,73.1 L271.4,73.1 L272.1,73.2 L272.7,73.2 L273.4,73.2 L274.1,73.2 L274.7,73.3 L275.4,73.3 L276.1,73.3 L276.7,73.4 L277.4,73.4 L278.1,73.4 L278.7,73.4 L279.4,73.5 L280.1,73.5 L280.7,73.5 L281.4,73.5 L282.0,73.5 L282.7,73.6 L283.4,73.6 L284.0,73.6 L284.7,73.6 L285.0,73.6 L285.4,73.6 L286.0,73.6 L286.7,73.6 L287.4,73.6 L288.0,73.6 L288.7,73.6 L289.4,73.6 L290.0,73.7 L290.7,73.7 L291.4,73.7 L292.0,73.7 L292.7,73.7 L293.4,73.7 L294.0,73.7 L294.7,73.7 L295.4,73.7 L296.0,73.7 L296.7,73.7 L297.4,73.7 L298.0,73.7 L298.7,73.7 L299.4,73.7 L300.0,73.7 L300.0,73.7 L300.7,73.7 L301.4,73.7 L302.0,73.7 L302.7,73.7 L303.4,73.7 L304.0,73.7 L304.7,73.7 L305.4,73.7 L306.0,73.7 L306.7,73.7 L307.3,73.6 L308.0,73.6 L308.7,73.6 L309.3,73.6 L310.0,73.6 L310.7,73.6 L311.3,73.6 L312.0,73.6 L312.7,73.5 L313.3,73.5 L314.0,73.5 L314.7,73.5 L315.3,73.5 L316.0,73.5 L316.7,73.4 L317.3,73.4 L318.0,73.4" stroke="#0000ff" stroke-width="2.4"/>
<path d="M126.1,8.3 L318.0,8.2" stroke="#000" stroke-width="2.6" stroke-dasharray="10.4 11"/>
<path d="M126.1,103.7 L318.0,103.9" stroke="#000" stroke-width="2.6" stroke-dasharray="10.4 11"/>
</g>
<text transform="translate(126.0,121.3) scale(1,1.07)" font-size="12.9" text-anchor="middle" fill="#151515">4</text>
<text transform="translate(221.8,121.3) scale(1,1.07)" font-size="12.9" text-anchor="middle" fill="#151515">4.5</text>
<text transform="translate(318.0,121.3) scale(1,1.07)" font-size="12.9" text-anchor="middle" fill="#151515">5</text>
<text transform="translate(121.2,14.3) scale(1,1.07)" font-size="12.9" text-anchor="end" fill="#151515">0.01</text>
<text transform="translate(121.2,60.8) scale(1,1.07)" font-size="12.9" text-anchor="end" fill="#151515">0</text>
<text transform="translate(121.2,107.1) scale(1,1.07)" font-size="12.9" text-anchor="end" fill="#151515">-0.01</text>
<rect x="370.3" y="33.7" width="66.09999999999997" height="54.5" fill="#fff" stroke="#b2b2b2"/>
<line x1="371.8" y1="40.6" x2="385.3" y2="40.6" stroke="#ff0000" stroke-width="2.4"/>
<text transform="translate(386.5,45.0) scale(1,1.07)" font-size="12" fill="#000">ILC-SMC</text>
<line x1="371.8" y1="54.4" x2="385.3" y2="54.4" stroke="#00ff00" stroke-width="2.4"/>
<text transform="translate(386.5,58.8) scale(1,1.07)" font-size="12" fill="#000">PID</text>
<line x1="371.8" y1="67.9" x2="385.3" y2="67.9" stroke="#0000ff" stroke-width="2.4"/>
<text transform="translate(386.5,72.3) scale(1,1.07)" font-size="12" fill="#000">BLF-ILC</text>
<line x1="372.6" y1="81.5" x2="381.6" y2="81.5" stroke="#000" stroke-width="2.6"/>
<text transform="translate(386.5,85.9) scale(1,1.07)" font-size="12" fill="#000">log-BLF</text>
<text x="239" y="233.6" font-size="14.7" text-anchor="middle" fill="#151515">Time(s)</text>
<text transform="translate(18.1,110.8) rotate(-90)" word-spacing="-0.5" font-size="14.75" text-anchor="middle" fill="#151515">s<tspan font-size="10.5" dy="6.5">13</tspan><tspan dy="-6.5">at k=10(m)</tspan></text>
<text x="303.2" y="261.3" font-size="14" text-anchor="middle" fill="#000">(<tspan font-weight="bold">a</tspan>)</text>
<rect x="42.2" y="290.4" width="389.3" height="193.5" fill="#fff" stroke="none"/>
<line x1="119.7" y1="290.4" x2="119.7" y2="483.9" stroke="#dddddd" stroke-width="1"/>
<line x1="197.7" y1="290.4" x2="197.7" y2="483.9" stroke="#dddddd" stroke-width="1"/>
<line x1="275.6" y1="290.4" x2="275.6" y2="483.9" stroke="#dddddd" stroke-width="1"/>
<line x1="353.6" y1="290.4" x2="353.6" y2="483.9" stroke="#dddddd" stroke-width="1"/>
<line x1="42.2" y1="331.8" x2="431.5" y2="331.8" stroke="#dddddd" stroke-width="1"/>
<line x1="42.2" y1="373.3" x2="431.5" y2="373.3" stroke="#dddddd" stroke-width="1"/>
<line x1="42.2" y1="428.6" x2="431.5" y2="428.6" stroke="#dddddd" stroke-width="1"/>
<g clip-path="url(#clipB)" fill="none" stroke-linejoin="round">
<path d="M41.8,377.2 L42.4,376.9 L43.0,376.6 L43.6,376.3 L44.1,376.1 L44.7,375.9 L45.3,375.7 L45.9,375.5 L46.5,375.4 L47.1,375.3 L47.7,375.1 L48.3,375.0 L48.8,374.9 L49.4,374.8 L50.0,374.7 L50.6,374.7 L51.2,374.6 L51.8,374.5 L52.4,374.4 L53.0,374.4 L53.5,374.3 L54.1,374.3 L54.7,374.2 L55.3,374.2 L55.9,374.1 L56.5,374.1 L57.1,374.1 L57.7,374.0 L58.2,374.0 L58.8,373.9 L59.4,373.9 L60.0,373.9 L60.6,373.9 L61.2,373.8 L61.8,373.8 L62.4,373.8 L62.9,373.8 L63.5,373.7 L64.1,373.7 L64.7,373.7 L65.3,373.7 L65.9,373.6 L66.5,373.6 L67.1,373.6 L67.6,373.6 L68.2,373.6 L68.8,373.6 L69.4,373.5 L70.0,373.5 L70.6,373.5 L71.2,373.5 L71.8,373.5 L72.3,373.5 L72.9,373.5 L73.5,373.5 L74.1,373.4 L74.7,373.4 L75.3,373.4 L75.9,373.4 L76.5,373.4 L77.0,373.4 L77.6,373.4 L78.2,373.4 L78.8,373.4 L79.4,373.4 L80.0,373.4 L80.6,373.3 L81.2,373.3 L81.7,373.3 L82.3,373.3 L82.9,373.3 L83.5,373.3 L84.1,373.3 L84.7,373.3 L85.3,373.3 L85.9,373.3 L86.4,373.3 L87.0,373.3 L87.6,373.3 L88.2,373.3 L88.8,373.3 L89.4,373.3 L90.0,373.3 L90.6,373.3 L91.1,373.3 L91.7,373.3 L92.3,373.2 L92.9,373.2 L93.5,373.2 L94.1,373.2 L94.7,373.2 L95.3,373.2 L95.8,373.2 L96.4,373.2 L97.0,373.2 L97.6,373.2 L98.2,373.2 L98.8,373.2 L99.4,373.2 L100.0,373.2 L100.5,373.2 L101.1,373.2 L101.7,373.2 L102.3,373.2 L102.9,373.2 L103.5,373.2 L104.1,373.2 L104.7,373.2 L105.2,373.2 L105.8,373.2 L106.4,373.2 L107.0,373.2 L107.6,373.2 L108.2,373.2 L108.8,373.2 L109.4,373.2 L109.9,373.2 L110.5,373.2 L111.1,373.2 L111.7,373.2 L112.3,373.2 L112.9,373.2 L113.5,373.2 L114.1,373.2 L114.6,373.2 L115.2,373.2 L115.8,373.2 L116.4,373.2 L117.0,373.2 L117.6,373.2 L118.2,373.2 L118.8,373.2 L119.3,373.2 L119.9,373.2 L120.5,373.2 L121.1,373.2 L121.7,373.2 L122.3,373.2 L122.9,373.2 L123.5,373.2 L124.0,373.2 L124.6,373.2 L125.2,373.2 L125.8,373.2 L126.4,373.2 L127.0,373.2 L127.6,373.2 L128.2,373.2 L128.7,373.2 L129.3,373.2 L129.9,373.2 L130.5,373.2 L131.1,373.2 L131.7,373.2 L132.3,373.2 L132.9,373.2 L133.4,373.2 L134.0,373.2 L134.6,373.2 L135.2,373.2 L135.8,373.2 L136.4,373.2 L137.0,373.2 L137.6,373.2 L138.1,373.2 L138.7,373.2 L139.3,373.2 L139.9,373.2 L140.5,373.2 L141.1,373.2 L141.7,373.2 L142.3,373.2 L142.8,373.2 L143.4,373.2 L144.0,373.2 L144.6,373.2 L145.2,373.2 L145.8,373.2 L146.4,373.2 L147.0,373.2 L147.5,373.2 L148.1,373.2 L148.7,373.2 L149.3,373.2 L149.9,373.2 L150.5,373.2 L151.1,373.2 L151.7,373.2 L152.2,373.2 L152.8,373.2 L153.4,373.2 L154.0,373.3 L154.6,373.3 L155.2,373.3 L155.8,373.3 L156.4,373.3 L156.9,373.3 L157.5,373.3 L158.1,373.3 L158.7,373.3 L165.7,373.3 L172.7,373.3 L179.7,373.3 L186.7,373.3 L193.7,373.3 L200.7,373.3 L207.7,373.3 L214.7,373.3 L221.7,373.3 L228.7,373.3 L235.7,373.3 L242.6,373.3 L249.6,373.3 L256.6,373.3 L263.6,373.3 L270.6,373.3 L277.6,373.3 L284.6,373.3 L291.6,373.3 L298.6,373.3 L305.6,373.3 L312.6,373.3 L319.6,373.3 L326.6,373.3 L333.6,373.3 L340.6,373.3 L347.6,373.3 L354.6,373.3 L361.6,373.3 L368.5,373.3 L375.5,373.3 L382.5,373.3 L389.5,373.3 L396.5,373.3 L403.5,373.3 L410.5,373.3 L417.5,373.3 L424.5,373.3 L431.5,373.3" stroke="#ff0000" stroke-width="2.4"/>
<path d="M42.2,462.0 L42.9,435.4 L43.3,420.0 L43.5,411.4 L44.2,386.9 L44.6,381.0 L44.9,382.3 L45.5,392.8 L46.2,405.0 L46.2,405.0 L46.9,415.8 L47.5,425.4 L48.0,428.0 L48.2,427.4 L48.9,419.3 L49.4,412.0 L49.5,410.6 L50.2,403.0 L50.6,401.0 L50.9,401.3 L51.5,403.8 L52.2,406.7 L52.3,407.0 L52.9,408.7 L53.5,410.5 L54.0,411.0 L54.2,410.9 L54.9,409.1 L55.5,406.7 L55.8,406.0 L56.2,405.0 L56.9,403.5 L57.4,403.0 L57.5,403.0 L58.2,403.6 L58.9,404.5 L59.5,405.4 L60.0,405.6 L60.2,405.6 L60.9,405.3 L61.5,404.8 L62.2,404.3 L62.9,404.0 L63.0,404.0 L63.5,404.0 L64.2,404.2 L64.9,404.4 L65.5,404.7 L66.2,404.9 L66.9,405.0 L67.0,405.0 L67.5,405.0 L68.2,404.9 L68.9,404.8 L69.5,404.7 L70.2,404.5 L70.9,404.3 L71.5,404.1 L72.2,404.0 L72.9,403.8 L73.5,403.6 L74.2,403.4 L74.9,403.3 L75.0,403.3 L75.5,403.2 L76.2,403.1 L76.9,403.1 L77.5,403.0 L78.2,402.9 L78.9,402.9 L79.5,402.8 L80.2,402.7 L80.9,402.7 L81.5,402.6 L82.2,402.5 L82.9,402.5 L83.5,402.4 L84.2,402.3 L84.9,402.2 L85.0,402.2 L85.5,402.1 L86.2,402.0 L86.9,401.9 L87.5,401.8 L88.2,401.6 L88.9,401.5 L89.5,401.3 L90.0,401.2 L90.2,401.1 L90.9,400.9 L91.5,400.7 L92.2,400.4 L92.9,400.1 L93.5,399.7 L94.2,399.4 L94.9,399.1 L95.0,399.0 L95.5,398.7 L96.2,398.4 L96.9,398.0 L97.5,397.6 L98.2,397.2 L98.9,396.9 L99.5,396.5 L100.2,396.1 L100.8,395.8 L100.9,395.8 L101.5,395.4 L102.2,395.1 L102.9,394.8 L103.5,394.4 L104.2,394.1 L104.9,393.8 L105.5,393.6 L106.0,393.4 L106.2,393.3 L106.9,393.1 L107.5,392.9 L108.2,392.7 L108.9,392.5 L109.5,392.3 L110.2,392.1 L110.9,392.0 L111.5,391.8 L111.6,391.8 L112.2,391.7 L112.9,391.6 L113.5,391.5 L114.2,391.4 L114.9,391.3 L115.5,391.2 L116.0,391.1 L116.2,391.1 L116.9,391.0 L117.5,390.8 L118.2,390.7 L118.9,390.6 L119.5,390.4 L119.7,390.4 L120.2,390.3 L120.9,390.0 L121.5,389.8 L122.2,389.5 L122.9,389.2 L123.5,388.8 L124.0,388.6 L124.2,388.5 L124.9,388.1 L125.5,387.8 L126.2,387.4 L126.9,387.0 L127.5,386.6 L127.8,386.4 L128.2,386.2 L128.9,385.8 L129.5,385.4 L130.2,384.9 L130.9,384.5 L131.5,384.1 L132.2,383.7 L132.9,383.3 L133.5,382.9 L134.2,382.6 L134.9,382.2 L135.5,381.9 L135.8,381.8 L136.2,381.6 L136.9,381.4 L137.5,381.1 L138.2,380.9 L138.9,380.6 L139.5,380.4 L140.2,380.2 L140.9,380.0 L141.5,379.7 L142.2,379.6 L142.9,379.4 L143.5,379.2 L143.9,379.1 L144.2,379.0 L144.9,378.9 L145.5,378.7 L146.2,378.6 L146.9,378.4 L147.5,378.3 L148.2,378.1 L148.9,378.0 L149.5,377.9 L150.2,377.7 L150.9,377.6 L151.5,377.5 L152.2,377.4 L152.9,377.3 L153.5,377.2 L154.2,377.1 L154.7,377.0 L154.9,377.0 L155.5,376.9 L156.2,376.8 L156.9,376.7 L157.5,376.6 L158.2,376.5 L158.9,376.4 L159.5,376.4 L160.2,376.3 L160.9,376.2 L161.5,376.1 L162.2,376.1 L162.9,376.0 L163.5,375.9 L164.2,375.8 L164.9,375.8 L165.5,375.7 L165.5,375.7 L166.2,375.6 L166.9,375.6 L167.5,375.5 L168.2,375.4 L168.9,375.4 L169.5,375.3 L170.2,375.3 L170.9,375.2 L171.5,375.1 L172.2,375.1 L172.9,375.0 L173.5,374.9 L173.6,374.9 L174.2,374.8 L174.9,374.7 L175.5,374.6 L176.2,374.5 L176.9,374.4 L177.5,374.3 L178.2,374.2 L178.9,374.0 L179.0,374.0 L179.5,373.9 L180.2,373.6 L180.9,373.4 L181.5,373.1 L182.2,372.8 L182.5,372.6 L182.9,372.4 L183.5,372.0 L184.2,371.4 L184.9,370.9 L185.5,370.3 L186.2,369.8 L186.9,369.3 L187.1,369.2 L187.5,369.0 L188.2,368.6 L188.9,368.3 L189.5,368.0 L190.2,367.8 L190.9,367.5 L191.0,367.5 L191.5,367.4 L192.2,367.2 L192.9,367.1 L193.5,367.0 L194.2,366.9 L194.9,366.8 L195.2,366.7 L195.5,366.6 L196.2,366.5 L196.9,366.4 L197.5,366.3 L198.2,366.2 L198.9,366.0 L199.0,366.0 L199.5,365.9 L200.2,365.6 L200.9,365.4 L201.5,365.1 L202.2,364.9 L202.9,364.6 L203.3,364.4 L203.5,364.3 L204.2,364.0 L204.9,363.7 L205.5,363.4 L206.2,363.0 L206.9,362.7 L207.0,362.6 L207.5,362.3 L208.2,361.9 L208.9,361.5 L209.5,361.1 L210.0,360.8 L210.2,360.7 L210.9,360.3 L211.5,359.9 L212.2,359.6 L212.9,359.2 L213.5,358.8 L214.2,358.5 L214.9,358.1 L215.0,358.0 L215.5,357.7 L216.2,357.3 L216.9,356.9 L217.5,356.5 L218.2,356.0 L218.9,355.6 L219.5,355.2 L220.2,354.8 L220.9,354.4 L221.5,354.1 L222.2,353.8 L222.9,353.5 L223.1,353.4 L223.5,353.2 L224.2,353.0 L224.9,352.8 L225.5,352.5 L226.2,352.3 L226.9,352.1 L227.5,351.9 L228.2,351.7 L228.9,351.6 L229.5,351.4 L230.2,351.3 L230.9,351.2 L231.2,351.2 L231.5,351.2 L232.2,351.1 L232.9,351.0 L233.5,351.0 L234.2,350.9 L234.9,350.9 L235.5,350.8 L236.2,350.8 L236.9,350.8 L237.5,350.7 L238.2,350.7 L238.8,350.7 L239.3,350.7 L239.5,350.7 L240.2,350.7 L240.8,350.7 L241.5,350.8 L242.2,350.8 L242.8,350.9 L243.5,350.9 L244.2,351.0 L244.8,351.0 L245.5,351.0 L246.2,351.1 L246.8,351.1 L247.4,351.1 L247.5,351.1 L248.2,351.1 L248.8,351.1 L249.5,351.1 L250.2,351.1 L250.8,351.1 L251.5,351.1 L252.2,351.1 L252.8,351.1 L253.5,351.0 L254.2,351.0 L254.8,351.0 L255.5,351.0 L255.5,351.0 L256.2,350.9 L256.8,350.8 L257.5,350.7 L258.2,350.5 L258.8,350.2 L259.5,349.9 L260.2,349.6 L260.8,349.3 L261.5,349.0 L262.2,348.6 L262.8,348.3 L263.5,348.0 L263.5,348.0 L264.2,347.7 L264.8,347.3 L265.5,346.9 L266.2,346.5 L266.8,346.0 L267.5,345.6 L268.2,345.1 L268.8,344.7 L269.5,344.3 L270.2,343.9 L270.8,343.5 L271.5,343.1 L271.6,343.1 L272.2,342.8 L272.8,342.5 L273.5,342.2 L274.2,342.0 L274.8,341.7 L275.5,341.4 L276.2,341.2 L276.8,341.0 L277.5,340.8 L278.2,340.6 L278.4,340.5 L278.8,340.4 L279.5,340.2 L280.2,340.1 L280.8,340.0 L281.5,339.8 L282.2,339.7 L282.8,339.6 L283.5,339.5 L284.2,339.3 L284.8,339.2 L285.1,339.1 L285.5,339.0 L286.2,338.8 L286.8,338.6 L287.5,338.3 L288.2,338.1 L288.8,337.8 L289.5,337.6 L290.2,337.3 L290.8,336.9 L291.5,336.6 L291.9,336.4 L292.2,336.2 L292.8,335.8 L293.5,335.3 L294.2,334.8 L294.8,334.2 L295.5,333.6 L296.2,333.0 L296.8,332.4 L297.5,331.8 L298.2,331.3 L298.6,331.0 L298.8,330.8 L299.5,330.4 L300.2,329.9 L300.8,329.5 L301.5,329.1 L302.2,328.7 L302.8,328.3 L303.5,327.9 L304.2,327.5 L304.8,327.2 L305.5,326.9 L306.2,326.6 L306.7,326.4 L306.8,326.3 L307.5,326.1 L308.2,325.9 L308.8,325.7 L309.5,325.5 L310.2,325.3 L310.8,325.1 L311.5,325.0 L312.2,324.8 L312.8,324.7 L313.5,324.5 L314.2,324.4 L314.8,324.3 L314.8,324.3 L315.5,324.2 L316.2,324.1 L316.8,324.0 L317.5,323.9 L318.2,323.8 L318.8,323.7 L319.5,323.6 L320.2,323.5 L320.8,323.5 L321.5,323.4 L322.2,323.4 L322.8,323.4 L322.9,323.4 L323.5,323.4 L324.2,323.5 L324.8,323.5 L325.5,323.6 L326.2,323.7 L326.8,323.8 L327.5,324.0 L328.2,324.1 L328.8,324.2 L329.5,324.3 L330.2,324.3 L330.8,324.4 L331.2,324.4 L331.5,324.4 L332.2,324.4 L332.8,324.4 L333.5,324.4 L334.2,324.5 L334.8,324.5 L335.5,324.5 L336.2,324.5 L336.8,324.5 L337.5,324.5 L338.2,324.5 L338.8,324.5 L339.3,324.5 L339.5,324.5 L340.2,324.5 L340.8,324.4 L341.5,324.3 L342.2,324.2 L342.8,324.0 L343.5,323.9 L344.2,323.7 L344.7,323.6 L344.8,323.6 L345.5,323.4 L346.2,323.2 L346.8,322.9 L347.5,322.6 L348.2,322.3 L348.8,322.0 L349.5,321.7 L350.0,321.4 L350.2,321.3 L350.8,320.9 L351.5,320.5 L352.2,320.0 L352.8,319.5 L353.5,319.0 L354.2,318.4 L354.8,317.9 L355.5,317.4 L355.5,317.4 L356.2,316.9 L356.8,316.4 L357.5,315.9 L358.2,315.3 L358.8,314.8 L359.5,314.3 L360.2,313.8 L360.8,313.3 L360.8,313.3 L361.5,312.8 L362.2,312.3 L362.8,311.8 L363.5,311.3 L364.2,310.8 L364.8,310.4 L365.5,309.9 L366.0,309.5 L366.2,309.4 L366.8,308.8 L367.5,308.3 L368.2,307.8 L368.8,307.2 L369.5,306.7 L370.2,306.2 L370.8,305.6 L371.5,305.1 L371.7,305.0 L372.2,304.7 L372.8,304.2 L373.5,303.7 L374.2,303.2 L374.8,302.8 L375.5,302.4 L376.2,302.0 L376.8,301.6 L377.0,301.5 L377.5,301.2 L378.2,300.9 L378.8,300.6 L379.5,300.3 L380.2,300.1 L380.8,299.8 L381.5,299.5 L382.2,299.3 L382.8,299.1 L383.0,299.0 L383.5,298.8 L384.2,298.6 L384.8,298.4 L385.5,298.2 L386.2,298.0 L386.8,297.8 L387.5,297.6 L388.2,297.5 L388.8,297.3 L389.5,297.1 L390.0,297.0 L390.2,297.0 L390.8,296.8 L391.5,296.7 L392.2,296.5 L392.8,296.4 L393.5,296.3 L394.2,296.1 L394.8,296.0 L395.5,295.9 L396.2,295.7 L396.8,295.6 L397.0,295.6 L397.5,295.5 L398.2,295.4 L398.8,295.3 L399.5,295.2 L400.2,295.0 L400.8,294.9 L401.5,294.8 L402.2,294.7 L402.8,294.6 L403.5,294.5 L404.2,294.4 L404.8,294.3 L405.0,294.3 L405.5,294.2 L406.2,294.2 L406.8,294.1 L407.5,294.0 L408.2,293.9 L408.8,293.9 L409.5,293.8 L410.2,293.7 L410.8,293.7 L411.5,293.6 L412.0,293.6 L412.2,293.6 L412.8,293.6 L413.5,293.5 L414.2,293.5 L414.8,293.5 L415.5,293.4 L416.2,293.4 L416.8,293.4 L417.5,293.4 L418.2,293.3 L418.8,293.3 L419.5,293.3 L420.0,293.3 L420.2,293.3 L420.8,293.3 L421.5,293.3 L422.2,293.3 L422.8,293.3 L423.5,293.3 L424.2,293.2 L424.8,293.2 L425.5,293.2 L426.2,293.2 L426.8,293.2 L427.0,293.2 L427.5,293.2 L428.2,293.1 L428.8,293.1 L429.5,293.0 L430.2,293.0 L430.8,292.9 L431.5,292.8" stroke="#00ff00" stroke-width="2.8"/>
<path d="M41.8,378.8 L42.4,378.5 L43.0,378.2 L43.6,377.9 L44.1,377.6 L44.7,377.4 L45.3,377.2 L45.9,377.0 L46.5,376.8 L47.1,376.7 L47.7,376.5 L48.3,376.4 L48.8,376.3 L49.4,376.2 L50.0,376.0 L50.6,375.9 L51.2,375.8 L51.8,375.8 L52.4,375.7 L53.0,375.6 L53.5,375.5 L54.1,375.4 L54.7,375.4 L55.3,375.3 L55.9,375.2 L56.5,375.2 L57.1,375.1 L57.7,375.1 L58.2,375.0 L58.8,375.0 L59.4,374.9 L60.0,374.9 L60.6,374.8 L61.2,374.8 L61.8,374.7 L62.4,374.7 L62.9,374.7 L63.5,374.6 L64.1,374.6 L64.7,374.6 L65.3,374.5 L65.9,374.5 L66.5,374.5 L67.1,374.4 L67.6,374.4 L68.2,374.4 L68.8,374.3 L69.4,374.3 L70.0,374.3 L70.6,374.3 L71.2,374.2 L71.8,374.2 L72.3,374.2 L72.9,374.2 L73.5,374.1 L74.1,374.1 L74.7,374.1 L75.3,374.1 L75.9,374.0 L76.5,374.0 L77.0,374.0 L77.6,374.0 L78.2,374.0 L78.8,374.0 L79.4,373.9 L80.0,373.9 L80.6,373.9 L81.2,373.9 L81.7,373.9 L82.3,373.9 L82.9,373.8 L83.5,373.8 L84.1,373.8 L84.7,373.8 L85.3,373.8 L85.9,373.8 L86.4,373.8 L87.0,373.7 L87.6,373.7 L88.2,373.7 L88.8,373.7 L89.4,373.7 L90.0,373.7 L90.6,373.7 L91.1,373.7 L91.7,373.7 L92.3,373.6 L92.9,373.6 L93.5,373.6 L94.1,373.6 L94.7,373.6 L95.3,373.6 L95.8,373.6 L96.4,373.6 L97.0,373.6 L97.6,373.6 L98.2,373.6 L98.8,373.6 L99.4,373.6 L100.0,373.5 L100.5,373.5 L101.1,373.5 L101.7,373.5 L102.3,373.5 L102.9,373.5 L103.5,373.5 L104.1,373.5 L104.7,373.5 L105.2,373.5 L105.8,373.5 L106.4,373.5 L107.0,373.5 L107.6,373.5 L108.2,373.5 L108.8,373.5 L109.4,373.5 L109.9,373.5 L110.5,373.5 L111.1,373.4 L111.7,373.4 L112.3,373.4 L112.9,373.4 L113.5,373.4 L114.1,373.4 L114.6,373.4 L115.2,373.4 L115.8,373.4 L116.4,373.4 L117.0,373.4 L117.6,373.4 L118.2,373.4 L118.8,373.4 L119.3,373.4 L119.9,373.4 L120.5,373.4 L121.1,373.4 L121.7,373.4 L122.3,373.4 L122.9,373.4 L123.5,373.4 L124.0,373.4 L124.6,373.4 L125.2,373.4 L125.8,373.4 L126.4,373.4 L127.0,373.4 L127.6,373.4 L128.2,373.4 L128.7,373.4 L129.3,373.4 L129.9,373.4 L130.5,373.4 L131.1,373.4 L131.7,373.4 L132.3,373.4 L132.9,373.4 L133.4,373.4 L134.0,373.4 L134.6,373.3 L135.2,373.3 L135.8,373.3 L136.4,373.3 L137.0,373.3 L137.6,373.3 L138.1,373.3 L138.7,373.3 L139.3,373.3 L139.9,373.3 L140.5,373.3 L141.1,373.3 L141.7,373.3 L142.3,373.3 L142.8,373.3 L143.4,373.3 L144.0,373.3 L144.6,373.3 L145.2,373.3 L145.8,373.3 L146.4,373.3 L147.0,373.3 L147.5,373.3 L148.1,373.3 L148.7,373.3 L149.3,373.3 L149.9,373.3 L150.5,373.3 L151.1,373.3 L151.7,373.3 L152.2,373.3 L152.8,373.3 L153.4,373.3 L154.0,373.3 L154.6,373.3 L155.2,373.3 L155.8,373.3 L156.4,373.3 L156.9,373.3 L157.5,373.3 L158.1,373.3 L158.7,373.3 L165.7,373.3 L172.7,373.3 L179.7,373.3 L186.7,373.3 L193.7,373.3 L200.7,373.3 L207.7,373.3 L214.7,373.3 L221.7,373.3 L228.7,373.3 L235.7,373.3 L242.6,373.3 L249.6,373.3 L256.6,373.3 L263.6,373.3 L270.6,373.3 L277.6,373.3 L284.6,373.3 L291.6,373.3 L298.6,373.3 L305.6,373.3 L312.6,373.3 L319.6,373.3 L326.6,373.3 L333.6,373.3 L340.6,373.3 L347.6,373.3 L354.6,373.3 L361.6,373.3 L368.5,373.3 L375.5,373.3 L382.5,373.3 L389.5,373.3 L396.5,373.3 L403.5,373.3 L410.5,373.3 L417.5,373.3 L424.5,373.3 L431.5,373.3" stroke="#0000ff" stroke-width="2.4"/>
<path d="M41.8,345.7 L42.8,346.3 L43.8,346.9 L44.7,347.5 L45.7,348.1 L46.7,348.7 L47.7,349.3 L48.6,349.9 L49.6,350.4 L50.6,350.9 L51.6,351.4 L52.5,352.0 L53.5,352.5 L54.5,352.9 L55.5,353.4 L56.5,353.9 L57.4,354.3 L58.4,354.8 L59.4,355.2 L60.4,355.6 L61.3,356.0 L62.3,356.4 L63.3,356.8 L64.3,357.2 L65.2,357.6 L66.2,357.9 L67.2,358.3 L68.2,358.6 L69.1,359.0 L70.1,359.3 L71.1,359.6 L72.1,359.9 L73.1,360.2 L74.0,360.5 L75.0,360.8 L76.0,361.1 L77.0,361.4 L77.9,361.7 L78.9,361.9 L79.9,362.2 L80.9,362.5 L81.8,362.7 L82.8,363.0 L83.8,363.2 L84.8,363.4 L85.8,363.6 L86.7,363.9 L87.7,364.1 L88.7,364.3 L89.7,364.5 L90.6,364.7 L91.6,364.9 L92.6,365.1 L93.6,365.3 L94.5,365.5 L95.5,365.6 L96.5,365.8 L97.5,366.0 L98.4,366.1 L99.4,366.3 L100.4,366.5 L101.4,366.6 L102.4,366.8 L103.3,366.9 L104.3,367.1 L105.3,367.2 L106.3,367.3 L107.2,367.5 L108.2,367.6 L109.2,367.7 L110.2,367.9 L111.1,368.0 L112.1,368.1 L113.1,368.2 L114.1,368.3 L115.1,368.4 L116.0,368.5 L117.0,368.6 L118.0,368.8 L119.0,368.9 L119.9,368.9 L120.9,369.0 L121.9,369.1 L122.9,369.2 L123.8,369.3 L124.8,369.4 L125.8,369.5 L126.8,369.6 L127.7,369.7 L128.7,369.7 L129.7,369.8 L130.7,369.9 L131.7,370.0 L132.6,370.0 L133.6,370.1 L134.6,370.2 L135.6,370.2 L136.5,370.3 L137.5,370.4 L138.5,370.4 L139.5,370.5 L140.4,370.6 L141.4,370.6 L142.4,370.7 L143.4,370.7 L144.4,370.8 L145.3,370.8 L146.3,370.9 L147.3,370.9 L148.3,371.0 L149.2,371.0 L150.2,371.1 L151.2,371.1 L152.2,371.2 L153.1,371.2 L154.1,371.3 L155.1,371.3 L156.1,371.3 L157.0,371.4 L158.0,371.4 L159.0,371.5 L160.0,371.5 L161.0,371.5 L161.9,371.6 L162.9,371.6 L163.9,371.6 L164.9,371.7 L165.8,371.7 L166.8,371.7 L167.8,371.8 L168.8,371.8 L169.7,371.8 L170.7,371.8 L171.7,371.9 L172.7,371.9 L173.7,371.9 L174.6,371.9 L175.6,372.0 L176.6,372.0 L177.6,372.0 L178.5,372.0 L179.5,372.1 L180.5,372.1 L181.5,372.1 L182.4,372.1 L183.4,372.2 L184.4,372.2 L185.4,372.2 L186.4,372.2 L187.3,372.2 L188.3,372.3 L189.3,372.3 L190.3,372.3 L191.2,372.3 L192.2,372.3 L193.2,372.3 L194.2,372.4 L195.1,372.4 L196.1,372.4 L197.1,372.4 L198.1,372.4 L199.0,372.4 L200.0,372.4 L201.0,372.5 L202.0,372.5 L203.0,372.5 L203.9,372.5 L204.9,372.5 L205.9,372.5 L206.9,372.5 L207.8,372.5 L208.8,372.6 L209.8,372.6 L210.8,372.6 L211.7,372.6 L212.7,372.6 L213.7,372.6 L214.7,372.6 L215.7,372.6 L216.6,372.6 L217.6,372.6 L218.6,372.7 L219.6,372.7 L220.5,372.7 L221.5,372.7 L222.5,372.7 L223.5,372.7 L224.4,372.7 L225.4,372.7 L226.4,372.7 L227.4,372.7 L228.3,372.7 L229.3,372.7 L230.3,372.7 L231.3,372.8 L232.3,372.8 L233.2,372.8 L234.2,372.8 L235.2,372.8 L236.2,372.8 L237.1,372.8 L238.1,372.8 L239.1,372.8 L240.1,372.8 L241.0,372.8 L242.0,372.8 L243.0,372.8 L244.0,372.8 L245.0,372.8 L245.9,372.8 L246.9,372.8 L247.9,372.8 L248.9,372.8 L249.8,372.9 L250.8,372.9 L251.8,372.9 L252.8,372.9 L253.7,372.9 L254.7,372.9 L255.7,372.9 L256.7,372.9 L257.6,372.9 L258.6,372.9 L259.6,372.9 L260.6,372.9 L261.6,372.9 L262.5,372.9 L263.5,372.9 L264.5,372.9 L265.5,372.9 L266.4,372.9 L267.4,372.9 L268.4,372.9 L269.4,372.9 L270.3,372.9 L271.3,372.9 L272.3,372.9 L273.3,372.9 L274.3,372.9 L275.2,372.9 L276.2,372.9 L277.2,372.9 L278.2,372.9 L279.1,372.9 L280.1,372.9 L281.1,372.9 L282.1,372.9 L283.0,372.9 L284.0,372.9 L285.0,373.0 L286.0,373.0 L286.9,373.0 L287.9,373.0 L288.9,373.0 L289.9,373.0 L290.9,373.0 L291.8,373.0 L292.8,373.0 L293.8,373.0 L294.8,373.0 L295.7,373.0 L296.7,373.0 L297.7,373.0 L298.7,373.0 L299.6,373.0 L300.6,373.0 L301.6,373.0 L302.6,373.0 L303.6,373.0 L304.5,373.0 L305.5,373.0 L306.5,373.0 L307.5,373.0 L308.4,373.0 L309.4,373.0 L310.4,373.0 L311.4,373.0 L312.3,373.0 L313.3,373.0 L314.3,373.0 L315.3,373.0 L316.3,373.0 L317.2,373.0 L318.2,373.0 L319.2,373.0 L320.2,373.0 L321.1,373.0 L322.1,373.0 L323.1,373.0 L324.1,373.0 L325.0,373.0 L326.0,373.0 L327.0,373.0 L328.0,373.0 L328.9,373.0 L329.9,373.0 L330.9,373.0 L331.9,373.0 L332.9,373.0 L333.8,373.0 L334.8,373.0 L335.8,373.0 L336.8,373.0 L337.7,373.0 L338.7,373.0 L339.7,373.0 L340.7,373.0 L341.6,373.0 L342.6,373.0 L343.6,373.0 L344.6,373.0 L345.6,373.0 L346.5,373.0 L347.5,373.0 L348.5,373.0 L349.5,373.0 L350.4,373.0 L351.4,373.0 L352.4,373.0 L353.4,373.0 L354.3,373.0 L355.3,373.0 L356.3,373.0 L357.3,373.0 L358.2,373.0 L359.2,373.0 L360.2,373.0 L361.2,373.0 L362.2,373.0 L363.1,373.0 L364.1,373.0 L365.1,373.0 L366.1,373.0 L367.0,373.0 L368.0,373.0 L369.0,373.0 L370.0,373.0 L370.9,373.0 L371.9,373.0 L372.9,373.0 L373.9,373.0 L374.9,373.0 L375.8,373.0 L376.8,373.0 L377.8,373.0 L378.8,373.0 L379.7,373.0 L380.7,373.0 L381.7,373.0 L382.7,373.0 L383.6,373.0 L384.6,373.0 L385.6,373.0 L386.6,373.0 L387.5,373.0 L388.5,373.0 L389.5,373.0 L390.5,373.0 L391.5,373.0 L392.4,373.0 L393.4,373.0 L394.4,373.0 L395.4,373.0 L396.3,373.0 L397.3,373.0 L398.3,373.0 L399.3,373.0 L400.2,373.0 L401.2,373.0 L402.2,373.0 L403.2,373.0 L404.2,373.0 L405.1,373.0 L406.1,373.0 L407.1,373.0 L408.1,373.0 L409.0,373.0 L410.0,373.0 L411.0,373.0 L412.0,373.0 L412.9,373.0 L413.9,373.0 L414.9,373.0 L415.9,373.0 L416.8,373.0 L417.8,373.0 L418.8,373.0 L419.8,373.0 L420.8,373.0 L421.7,373.0 L422.7,373.0 L423.7,373.0 L424.7,373.0 L425.6,373.0 L426.6,373.0 L427.6,373.0 L428.6,373.0 L429.5,373.0 L430.5,373.0 L431.5,373.0" stroke="#000" stroke-width="2.6" stroke-dasharray="10.2 10.65"/>
<path d="M41.8,400.9 L42.8,400.3 L43.8,399.7 L44.7,399.1 L45.7,398.5 L46.7,397.9 L47.7,397.3 L48.6,396.7 L49.6,396.2 L50.6,395.7 L51.6,395.2 L52.5,394.6 L53.5,394.1 L54.5,393.7 L55.5,393.2 L56.5,392.7 L57.4,392.3 L58.4,391.8 L59.4,391.4 L60.4,391.0 L61.3,390.6 L62.3,390.2 L63.3,389.8 L64.3,389.4 L65.2,389.0 L66.2,388.7 L67.2,388.3 L68.2,388.0 L69.1,387.6 L70.1,387.3 L71.1,387.0 L72.1,386.7 L73.1,386.4 L74.0,386.1 L75.0,385.8 L76.0,385.5 L77.0,385.2 L77.9,384.9 L78.9,384.7 L79.9,384.4 L80.9,384.1 L81.8,383.9 L82.8,383.6 L83.8,383.4 L84.8,383.2 L85.8,383.0 L86.7,382.7 L87.7,382.5 L88.7,382.3 L89.7,382.1 L90.6,381.9 L91.6,381.7 L92.6,381.5 L93.6,381.3 L94.5,381.1 L95.5,381.0 L96.5,380.8 L97.5,380.6 L98.4,380.5 L99.4,380.3 L100.4,380.1 L101.4,380.0 L102.4,379.8 L103.3,379.7 L104.3,379.5 L105.3,379.4 L106.3,379.3 L107.2,379.1 L108.2,379.0 L109.2,378.9 L110.2,378.7 L111.1,378.6 L112.1,378.5 L113.1,378.4 L114.1,378.3 L115.1,378.2 L116.0,378.1 L117.0,378.0 L118.0,377.8 L119.0,377.7 L119.9,377.7 L120.9,377.6 L121.9,377.5 L122.9,377.4 L123.8,377.3 L124.8,377.2 L125.8,377.1 L126.8,377.0 L127.7,376.9 L128.7,376.9 L129.7,376.8 L130.7,376.7 L131.7,376.6 L132.6,376.6 L133.6,376.5 L134.6,376.4 L135.6,376.4 L136.5,376.3 L137.5,376.2 L138.5,376.2 L139.5,376.1 L140.4,376.0 L141.4,376.0 L142.4,375.9 L143.4,375.9 L144.4,375.8 L145.3,375.8 L146.3,375.7 L147.3,375.7 L148.3,375.6 L149.2,375.6 L150.2,375.5 L151.2,375.5 L152.2,375.4 L153.1,375.4 L154.1,375.3 L155.1,375.3 L156.1,375.3 L157.0,375.2 L158.0,375.2 L159.0,375.1 L160.0,375.1 L161.0,375.1 L161.9,375.0 L162.9,375.0 L163.9,375.0 L164.9,374.9 L165.8,374.9 L166.8,374.9 L167.8,374.8 L168.8,374.8 L169.7,374.8 L170.7,374.8 L171.7,374.7 L172.7,374.7 L173.7,374.7 L174.6,374.7 L175.6,374.6 L176.6,374.6 L177.6,374.6 L178.5,374.6 L179.5,374.5 L180.5,374.5 L181.5,374.5 L182.4,374.5 L183.4,374.4 L184.4,374.4 L185.4,374.4 L186.4,374.4 L187.3,374.4 L188.3,374.3 L189.3,374.3 L190.3,374.3 L191.2,374.3 L192.2,374.3 L193.2,374.3 L194.2,374.2 L195.1,374.2 L196.1,374.2 L197.1,374.2 L198.1,374.2 L199.0,374.2 L200.0,374.2 L201.0,374.1 L202.0,374.1 L203.0,374.1 L203.9,374.1 L204.9,374.1 L205.9,374.1 L206.9,374.1 L207.8,374.1 L208.8,374.0 L209.8,374.0 L210.8,374.0 L211.7,374.0 L212.7,374.0 L213.7,374.0 L214.7,374.0 L215.7,374.0 L216.6,374.0 L217.6,374.0 L218.6,373.9 L219.6,373.9 L220.5,373.9 L221.5,373.9 L222.5,373.9 L223.5,373.9 L224.4,373.9 L225.4,373.9 L226.4,373.9 L227.4,373.9 L228.3,373.9 L229.3,373.9 L230.3,373.9 L231.3,373.8 L232.3,373.8 L233.2,373.8 L234.2,373.8 L235.2,373.8 L236.2,373.8 L237.1,373.8 L238.1,373.8 L239.1,373.8 L240.1,373.8 L241.0,373.8 L242.0,373.8 L243.0,373.8 L244.0,373.8 L245.0,373.8 L245.9,373.8 L246.9,373.8 L247.9,373.8 L248.9,373.8 L249.8,373.7 L250.8,373.7 L251.8,373.7 L252.8,373.7 L253.7,373.7 L254.7,373.7 L255.7,373.7 L256.7,373.7 L257.6,373.7 L258.6,373.7 L259.6,373.7 L260.6,373.7 L261.6,373.7 L262.5,373.7 L263.5,373.7 L264.5,373.7 L265.5,373.7 L266.4,373.7 L267.4,373.7 L268.4,373.7 L269.4,373.7 L270.3,373.7 L271.3,373.7 L272.3,373.7 L273.3,373.7 L274.3,373.7 L275.2,373.7 L276.2,373.7 L277.2,373.7 L278.2,373.7 L279.1,373.7 L280.1,373.7 L281.1,373.7 L282.1,373.7 L283.0,373.7 L284.0,373.7 L285.0,373.6 L286.0,373.6 L286.9,373.6 L287.9,373.6 L288.9,373.6 L289.9,373.6 L290.9,373.6 L291.8,373.6 L292.8,373.6 L293.8,373.6 L294.8,373.6 L295.7,373.6 L296.7,373.6 L297.7,373.6 L298.7,373.6 L299.6,373.6 L300.6,373.6 L301.6,373.6 L302.6,373.6 L303.6,373.6 L304.5,373.6 L305.5,373.6 L306.5,373.6 L307.5,373.6 L308.4,373.6 L309.4,373.6 L310.4,373.6 L311.4,373.6 L312.3,373.6 L313.3,373.6 L314.3,373.6 L315.3,373.6 L316.3,373.6 L317.2,373.6 L318.2,373.6 L319.2,373.6 L320.2,373.6 L321.1,373.6 L322.1,373.6 L323.1,373.6 L324.1,373.6 L325.0,373.6 L326.0,373.6 L327.0,373.6 L328.0,373.6 L328.9,373.6 L329.9,373.6 L330.9,373.6 L331.9,373.6 L332.9,373.6 L333.8,373.6 L334.8,373.6 L335.8,373.6 L336.8,373.6 L337.7,373.6 L338.7,373.6 L339.7,373.6 L340.7,373.6 L341.6,373.6 L342.6,373.6 L343.6,373.6 L344.6,373.6 L345.6,373.6 L346.5,373.6 L347.5,373.6 L348.5,373.6 L349.5,373.6 L350.4,373.6 L351.4,373.6 L352.4,373.6 L353.4,373.6 L354.3,373.6 L355.3,373.6 L356.3,373.6 L357.3,373.6 L358.2,373.6 L359.2,373.6 L360.2,373.6 L361.2,373.6 L362.2,373.6 L363.1,373.6 L364.1,373.6 L365.1,373.6 L366.1,373.6 L367.0,373.6 L368.0,373.6 L369.0,373.6 L370.0,373.6 L370.9,373.6 L371.9,373.6 L372.9,373.6 L373.9,373.6 L374.9,373.6 L375.8,373.6 L376.8,373.6 L377.8,373.6 L378.8,373.6 L379.7,373.6 L380.7,373.6 L381.7,373.6 L382.7,373.6 L383.6,373.6 L384.6,373.6 L385.6,373.6 L386.6,373.6 L387.5,373.6 L388.5,373.6 L389.5,373.6 L390.5,373.6 L391.5,373.6 L392.4,373.6 L393.4,373.6 L394.4,373.6 L395.4,373.6 L396.3,373.6 L397.3,373.6 L398.3,373.6 L399.3,373.6 L400.2,373.6 L401.2,373.6 L402.2,373.6 L403.2,373.6 L404.2,373.6 L405.1,373.6 L406.1,373.6 L407.1,373.6 L408.1,373.6 L409.0,373.6 L410.0,373.6 L411.0,373.6 L412.0,373.6 L412.9,373.6 L413.9,373.6 L414.9,373.6 L415.9,373.6 L416.8,373.6 L417.8,373.6 L418.8,373.6 L419.8,373.6 L420.8,373.6 L421.7,373.6 L422.7,373.6 L423.7,373.6 L424.7,373.6 L425.6,373.6 L426.6,373.6 L427.6,373.6 L428.6,373.6 L429.5,373.6 L430.5,373.6 L431.5,373.6" stroke="#000" stroke-width="2.6" stroke-dasharray="10.2 10.65"/>
</g>
<path d="M42.2,290.4 H431.5 M42.2,483.9 H431.5" fill="none" stroke="#b2b2b2" stroke-width="1"/>
<path d="M42.2,290.4 V483.9 M431.5,290.4 V483.9" fill="none" stroke="#c8c8c8" stroke-width="1"/>
<text transform="translate(41.8,499.8) scale(1,1.07)" font-size="13" text-anchor="middle" fill="#151515">0</text>
<text transform="translate(119.7,499.8) scale(1,1.07)" font-size="13" text-anchor="middle" fill="#151515">1</text>
<text transform="translate(197.7,499.8) scale(1,1.07)" font-size="13" text-anchor="middle" fill="#151515">2</text>
<text transform="translate(275.6,499.8) scale(1,1.07)" font-size="13" text-anchor="middle" fill="#151515">3</text>
<text transform="translate(353.6,499.8) scale(1,1.07)" font-size="13" text-anchor="middle" fill="#151515">4</text>
<text transform="translate(431.5,499.8) scale(1,1.07)" font-size="13" text-anchor="middle" fill="#151515">5</text>
<text transform="translate(38.6,295.7) scale(1,1.07)" font-size="13" text-anchor="end" fill="#151515">3</text>
<text transform="translate(38.6,337.1) scale(1,1.07)" font-size="13" text-anchor="end" fill="#151515">1.5</text>
<text transform="translate(38.6,378.6) scale(1,1.07)" font-size="13" text-anchor="end" fill="#151515">0</text>
<text transform="translate(38.6,433.9) scale(1,1.07)" font-size="13" text-anchor="end" fill="#151515">-2</text>
<text transform="translate(38.6,489.2) scale(1,1.07)" font-size="13" text-anchor="end" fill="#151515">-4</text>
<rect x="198.6" y="381.3" width="164.70000000000002" height="85.69999999999999" fill="#fff"/>
<line x1="282.0" y1="381.3" x2="282.0" y2="467.0" stroke="#dddddd"/>
<line x1="198.6" y1="424.1" x2="363.3" y2="424.1" stroke="#dddddd"/>
<rect x="198.6" y="381.3" width="164.70000000000002" height="85.69999999999999" fill="none" stroke="#b2b2b2"/>
<g fill="none">
<path d="M198.6,433.6 L199.3,433.6 L199.9,433.6 L200.6,433.7 L201.3,433.7 L201.9,433.7 L202.6,433.7 L203.2,433.8 L203.9,433.8 L204.6,433.8 L205.2,433.8 L205.9,433.8 L206.6,433.8 L207.2,433.8 L207.9,433.8 L208.6,433.9 L209.2,433.9 L209.9,433.9 L210.6,433.9 L211.2,433.9 L211.9,433.9 L212.5,433.9 L213.2,433.9 L213.9,433.9 L214.5,433.9 L215.0,433.9 L215.2,433.9 L215.9,433.9 L216.5,433.9 L217.2,433.9 L217.9,433.9 L218.5,433.9 L219.2,433.8 L219.9,433.8 L220.5,433.8 L221.2,433.8 L221.8,433.8 L222.5,433.7 L223.2,433.7 L223.8,433.7 L224.5,433.7 L225.2,433.6 L225.8,433.6 L226.5,433.6 L227.2,433.6 L227.8,433.5 L228.5,433.5 L229.1,433.5 L229.8,433.4 L230.5,433.4 L231.1,433.4 L231.8,433.3 L232.5,433.3 L233.1,433.3 L233.8,433.3 L234.5,433.2 L235.1,433.2 L235.8,433.2 L236.5,433.2 L237.1,433.1 L237.8,433.1 L238.4,433.1 L239.0,433.1 L239.1,433.1 L239.8,433.1 L240.4,433.1 L241.1,433.1 L241.8,433.0 L242.4,433.0 L243.1,433.0 L243.8,433.0 L244.4,433.0 L245.1,433.0 L245.8,433.0 L246.4,433.0 L247.1,432.9 L247.7,432.9 L248.4,432.9 L249.1,432.9 L249.7,432.9 L250.4,432.9 L251.1,432.9 L251.7,432.9 L252.4,432.9 L253.1,432.8 L253.7,432.8 L254.4,432.8 L255.0,432.8 L255.7,432.8 L256.4,432.8 L257.0,432.8 L257.7,432.8 L258.4,432.8 L259.0,432.8 L259.7,432.8 L260.0,432.8 L260.4,432.8 L261.0,432.8 L261.7,432.8 L262.4,432.8 L263.0,432.8 L263.7,432.8 L264.3,432.8 L265.0,432.8 L265.7,432.8 L266.3,432.8 L267.0,432.8 L267.7,432.9 L268.3,432.9 L269.0,432.9 L269.7,432.9 L270.3,432.9 L271.0,432.9 L271.7,432.9 L272.3,432.9 L273.0,432.9 L273.6,432.9 L274.3,432.9 L275.0,433.0 L275.6,433.0 L276.3,433.0 L277.0,433.0 L277.6,433.0 L278.3,433.0 L279.0,433.0 L279.6,433.0 L280.3,433.0 L280.9,433.0 L281.6,433.0 L282.0,433.0 L282.3,433.0 L282.9,433.0 L283.6,433.0 L284.3,433.0 L284.9,433.0 L285.6,433.0 L286.3,433.0 L286.9,433.0 L287.6,433.0 L288.3,433.0 L288.9,433.0 L289.6,433.0 L290.2,433.0 L290.9,433.0 L291.6,433.0 L292.2,433.0 L292.9,433.0 L293.6,433.0 L294.2,433.0 L294.9,433.0 L295.6,433.0 L296.2,433.0 L296.9,433.0 L297.6,433.0 L298.2,433.0 L298.9,433.0 L299.5,433.0 L300.2,432.9 L300.9,432.9 L301.5,432.9 L302.2,432.9 L302.9,432.9 L303.5,432.9 L304.2,432.9 L304.9,432.9 L305.5,432.9 L306.2,432.9 L306.9,432.9 L307.5,432.9 L308.2,432.9 L308.8,432.9 L309.5,432.9 L310.0,432.9 L310.2,432.9 L310.8,432.9 L311.5,432.9 L312.2,432.9 L312.8,432.9 L313.5,432.9 L314.2,432.9 L314.8,432.9 L315.5,432.9 L316.1,432.9 L316.8,432.8 L317.5,432.8 L318.1,432.8 L318.8,432.8 L319.5,432.8 L320.1,432.8 L320.8,432.8 L321.5,432.8 L322.1,432.8 L322.8,432.8 L323.5,432.8 L324.1,432.8 L324.8,432.8 L325.4,432.8 L326.1,432.7 L326.8,432.7 L327.4,432.7 L328.1,432.7 L328.8,432.7 L329.4,432.7 L330.1,432.7 L330.8,432.7 L331.4,432.7 L332.1,432.7 L332.8,432.7 L333.4,432.7 L334.1,432.7 L334.7,432.7 L335.0,432.7 L335.4,432.7 L336.1,432.7 L336.7,432.7 L337.4,432.7 L338.1,432.7 L338.7,432.7 L339.4,432.7 L340.1,432.7 L340.7,432.7 L341.4,432.7 L342.0,432.7 L342.7,432.7 L343.4,432.7 L344.0,432.7 L344.7,432.7 L345.4,432.8 L346.0,432.8 L346.7,432.8 L347.4,432.8 L348.0,432.8 L348.7,432.8 L349.4,432.8 L350.0,432.8 L350.0,432.8 L350.7,432.8 L351.3,432.8 L352.0,432.8 L352.7,432.9 L353.3,432.9 L354.0,432.9 L354.7,433.0 L355.3,433.0 L356.0,433.0 L356.7,433.1 L357.3,433.1 L358.0,433.2 L358.7,433.2 L359.3,433.3 L360.0,433.3 L360.6,433.4 L361.3,433.4 L362.0,433.5 L362.6,433.5 L363.3,433.6" stroke="#ff0000" stroke-width="2.4"/>
<path d="M198.6,429.3 L199.3,429.4 L199.9,429.5 L200.6,429.6 L201.3,429.7 L201.9,429.8 L202.6,429.9 L203.2,430.0 L203.9,430.0 L204.6,430.1 L205.2,430.2 L205.9,430.3 L206.6,430.4 L207.2,430.5 L207.9,430.6 L208.6,430.6 L209.2,430.7 L209.9,430.8 L210.0,430.8 L210.6,430.9 L211.2,430.9 L211.9,431.0 L212.5,431.1 L213.2,431.2 L213.9,431.2 L214.5,431.3 L215.2,431.4 L215.9,431.5 L216.5,431.5 L217.2,431.6 L217.9,431.7 L218.5,431.8 L219.2,431.8 L219.9,431.9 L220.5,432.0 L221.2,432.0 L221.8,432.1 L222.5,432.1 L223.2,432.2 L223.8,432.2 L224.5,432.3 L225.0,432.3 L225.2,432.3 L225.8,432.3 L226.5,432.4 L227.2,432.4 L227.8,432.5 L228.5,432.5 L229.1,432.5 L229.8,432.6 L230.5,432.6 L231.1,432.6 L231.8,432.7 L232.5,432.7 L233.1,432.7 L233.8,432.7 L234.5,432.8 L235.1,432.8 L235.8,432.8 L236.5,432.8 L237.1,432.9 L237.8,432.9 L238.4,432.9 L239.0,432.9 L239.1,432.9 L239.8,432.9 L240.4,432.9 L241.1,432.9 L241.8,433.0 L242.4,433.0 L243.1,433.0 L243.8,433.0 L244.4,433.0 L245.1,433.0 L245.8,433.0 L246.4,433.0 L247.1,433.0 L247.7,433.1 L248.4,433.1 L249.1,433.1 L249.7,433.1 L250.4,433.1 L251.1,433.1 L251.7,433.1 L252.4,433.1 L253.1,433.1 L253.7,433.1 L254.4,433.1 L255.0,433.1 L255.7,433.2 L256.4,433.2 L257.0,433.2 L257.7,433.2 L258.4,433.2 L259.0,433.2 L259.7,433.2 L260.0,433.2 L260.4,433.2 L261.0,433.2 L261.7,433.2 L262.4,433.2 L263.0,433.2 L263.7,433.2 L264.3,433.3 L265.0,433.3 L265.7,433.3 L266.3,433.3 L267.0,433.3 L267.7,433.3 L268.3,433.3 L269.0,433.3 L269.7,433.3 L270.3,433.3 L271.0,433.3 L271.7,433.3 L272.3,433.3 L273.0,433.4 L273.6,433.4 L274.3,433.4 L275.0,433.4 L275.6,433.4 L276.3,433.4 L277.0,433.4 L277.6,433.4 L278.3,433.4 L279.0,433.4 L279.6,433.4 L280.3,433.4 L280.9,433.4 L281.6,433.4 L282.0,433.4 L282.3,433.4 L282.9,433.4 L283.6,433.4 L284.3,433.4 L284.9,433.4 L285.6,433.4 L286.3,433.4 L286.9,433.4 L287.6,433.4 L288.3,433.4 L288.9,433.4 L289.6,433.4 L290.2,433.4 L290.9,433.4 L291.6,433.4 L292.2,433.4 L292.9,433.4 L293.6,433.4 L294.2,433.4 L294.9,433.4 L295.6,433.4 L296.2,433.3 L296.9,433.3 L297.6,433.3 L298.2,433.3 L298.9,433.3 L299.5,433.3 L300.2,433.3 L300.9,433.3 L301.5,433.3 L302.2,433.3 L302.9,433.3 L303.5,433.3 L304.2,433.3 L304.9,433.3 L305.5,433.3 L306.2,433.3 L306.9,433.3 L307.5,433.3 L308.2,433.3 L308.8,433.3 L309.5,433.3 L310.0,433.3 L310.2,433.3 L310.8,433.3 L311.5,433.3 L312.2,433.3 L312.8,433.3 L313.5,433.3 L314.2,433.3 L314.8,433.3 L315.5,433.3 L316.1,433.3 L316.8,433.3 L317.5,433.3 L318.1,433.3 L318.8,433.3 L319.5,433.3 L320.1,433.3 L320.8,433.3 L321.5,433.3 L322.1,433.3 L322.8,433.3 L323.5,433.3 L324.1,433.3 L324.8,433.3 L325.4,433.3 L326.1,433.3 L326.8,433.3 L327.4,433.3 L328.1,433.4 L328.8,433.4 L329.4,433.4 L330.1,433.4 L330.8,433.4 L331.4,433.4 L332.1,433.4 L332.8,433.4 L333.4,433.4 L334.1,433.4 L334.7,433.4 L335.0,433.4 L335.4,433.4 L336.1,433.4 L336.7,433.4 L337.4,433.4 L338.1,433.5 L338.7,433.5 L339.4,433.5 L340.1,433.6 L340.7,433.6 L341.4,433.6 L342.0,433.7 L342.7,433.7 L343.4,433.7 L344.0,433.8 L344.7,433.8 L345.4,433.9 L346.0,433.9 L346.7,434.0 L347.4,434.0 L348.0,434.1 L348.7,434.1 L349.4,434.2 L350.0,434.2 L350.0,434.2 L350.7,434.2 L351.3,434.3 L352.0,434.3 L352.7,434.4 L353.3,434.4 L354.0,434.5 L354.7,434.5 L355.3,434.6 L356.0,434.6 L356.7,434.7 L357.3,434.8 L358.0,434.8 L358.7,434.9 L359.3,434.9 L360.0,435.0 L360.6,435.0 L361.3,435.1 L362.0,435.2 L362.6,435.2 L363.3,435.3" stroke="#0000ff" stroke-width="2.4"/>
<path d="M199.1,381.6 L363.3,381.6" stroke="#000" stroke-width="2.6" stroke-dasharray="10.3 10.75"/>
<path d="M199.1,466.7 L363.3,466.9" stroke="#000" stroke-width="2.6" stroke-dasharray="10.3 10.75"/>
</g>
<text transform="translate(198.6,482.8) scale(1,1.07)" font-size="12.9" text-anchor="middle" fill="#151515">4</text>
<text transform="translate(280.5,482.8) scale(1,1.07)" font-size="12.9" text-anchor="middle" fill="#151515">4.5</text>
<text transform="translate(363.6,482.8) scale(1,1.07)" font-size="12.9" text-anchor="middle" fill="#151515">5</text>
<text transform="translate(194.6,386.9) scale(1,1.07)" font-size="12.9" text-anchor="end" fill="#151515">0.01</text>
<text transform="translate(194.6,428.5) scale(1,1.07)" font-size="12.9" text-anchor="end" fill="#151515">0</text>
<text transform="translate(194.6,470.9) scale(1,1.07)" font-size="12.9" text-anchor="end" fill="#151515">-0.01</text>
<rect x="363.4" y="293.5" width="64.30000000000001" height="53.89999999999998" fill="#fff" stroke="#b2b2b2"/>
<line x1="364.9" y1="301.3" x2="378.4" y2="301.3" stroke="#ff0000" stroke-width="2.4"/>
<text transform="translate(378.7,305.7) scale(1,1.07)" font-size="11.7" fill="#000">ILC-SMC</text>
<line x1="364.9" y1="314.4" x2="378.4" y2="314.4" stroke="#00ff00" stroke-width="2.4"/>
<text transform="translate(378.7,318.8) scale(1,1.07)" font-size="11.7" fill="#000">PID</text>
<line x1="364.9" y1="327.9" x2="378.4" y2="327.9" stroke="#0000ff" stroke-width="2.4"/>
<text transform="translate(378.7,332.3) scale(1,1.07)" font-size="11.7" fill="#000">BLF-ILC</text>
<line x1="365.7" y1="341.1" x2="374.7" y2="341.1" stroke="#000" stroke-width="2.6"/>
<text transform="translate(378.7,345.5) scale(1,1.07)" font-size="11.7" fill="#000">log-BLF</text>
<text x="237" y="516" font-size="14.5" text-anchor="middle" fill="#151515">Time(s)</text>
<text transform="translate(18.1,387.2) rotate(-90)" word-spacing="-0.3" font-size="14.5" text-anchor="middle" fill="#151515">s<tspan font-size="10.3" dy="6.5">15</tspan><tspan dy="-6.5">at k=10(m)</tspan></text>
<text x="303.2" y="541.5" font-size="14" text-anchor="middle" fill="#000">(<tspan font-weight="bold">b</tspan>)</text>
</svg>
</body></html>
